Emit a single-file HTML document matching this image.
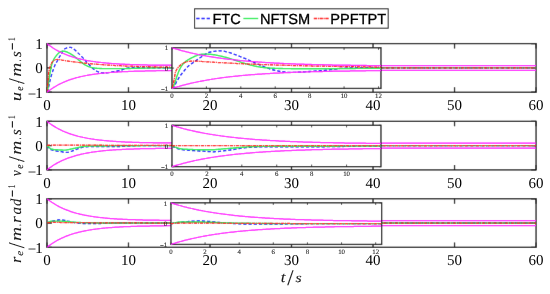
<!DOCTYPE html>
<html><head><meta charset="utf-8"><title>plot</title>
<style>html,body{margin:0;padding:0;background:#fff;overflow:hidden}svg{display:block;text-rendering:geometricPrecision}</style>
</head><body>
<svg width="550" height="294" viewBox="0 0 550 294">
<rect width="550" height="294" fill="#fff"/>
<defs><filter id="bl" filterUnits="userSpaceOnUse" x="0" y="0" width="550" height="294"><feConvolveMatrix order="3" kernelMatrix="0.00276 0.04704 0.00276 0.04704 0.80077 0.04704 0.00276 0.04704 0.00276" divisor="1" edgeMode="duplicate" preserveAlpha="true"/></filter></defs>
<g filter="url(#bl)">
<rect width="550" height="294" fill="#fff"/>
<g>
<rect x="46.97" y="43.60" width="489.09" height="48.64" fill="none" stroke="#1a1a1a" stroke-width="1.30"/>
<path d="M46.97,92.24 v-4.90 M46.97,43.60 v4.90 M128.48,92.24 v-4.90 M128.48,43.60 v4.90 M210.00,92.24 v-4.90 M210.00,43.60 v4.90 M291.51,92.24 v-4.90 M291.51,43.60 v4.90 M373.03,92.24 v-4.90 M373.03,43.60 v4.90 M454.54,92.24 v-4.90 M454.54,43.60 v4.90 M536.06,92.24 v-4.90 M536.06,43.60 v4.90 M46.97,92.24 h4.90 M536.06,92.24 h-4.90 M46.97,67.92 h4.90 M536.06,67.92 h-4.90 M46.97,43.60 h4.90 M536.06,43.60 h-4.90" stroke="#1a1a1a" stroke-width="1.30" fill="none"/>
<clipPath id="c0"><rect x="46.97" y="42.60" width="489.09" height="50.64"/></clipPath>
<g clip-path="url(#c0)">
<path d="M47.0,92.2 L47.8,90.4 L48.6,87.2 L49.4,83.3 L50.2,79.9 L51.0,76.8 L51.8,74.1 L52.6,71.6 L53.4,69.2 L54.2,67.0 L55.0,64.9 L55.8,63.4 L56.6,62.1 L57.4,60.7 L58.2,59.2 L59.0,57.8 L59.8,56.4 L60.6,55.1 L61.4,53.8 L62.2,52.4 L63.0,51.0 L63.8,49.8 L64.6,49.0 L65.4,48.5 L66.2,48.2 L67.0,47.8 L67.8,47.6 L68.6,47.4 L69.4,47.3 L70.2,47.3 L71.0,47.4 L71.8,47.8 L72.6,48.3 L73.4,48.9 L74.2,49.4 L75.0,50.0 L75.8,50.7 L76.6,51.4 L77.4,52.2 L78.2,53.1 L79.0,53.9 L79.8,54.6 L80.6,55.4 L81.4,56.3 L82.2,57.1 L83.0,57.9 L83.8,58.8 L84.6,59.7 L85.4,60.6 L86.2,61.6 L87.0,62.5 L87.8,63.4 L88.6,64.2 L89.4,65.0 L90.2,65.8 L91.0,66.6 L91.8,67.4 L92.6,68.2 L93.4,68.9 L94.2,69.6 L95.0,70.1 L95.8,70.6 L96.6,71.1 L97.4,71.5 L98.2,71.8 L99.0,72.1 L99.8,72.4 L100.6,72.6 L101.4,72.8 L102.2,73.0 L103.0,73.0 L103.8,73.0 L104.6,73.0 L105.4,73.0 L106.2,72.9 L107.0,72.9 L107.8,72.7 L108.6,72.6 L109.4,72.4 L110.2,72.3 L111.0,72.1 L111.8,72.0 L112.6,71.9 L113.4,71.7 L114.2,71.6 L115.0,71.5 L115.8,71.3 L116.6,71.2 L117.4,71.0 L118.2,70.8 L119.0,70.6 L119.8,70.4 L120.6,70.2 L121.4,70.0 L122.2,69.8 L123.0,69.5 L123.8,69.2 L124.6,69.0 L125.4,68.7 L126.2,68.4 L127.0,68.2 L127.8,68.1 L128.6,67.9 L129.4,67.9 L130.2,67.9 L131.0,67.8 L131.8,67.8 L132.6,67.7 L133.4,67.7 L134.2,67.7 L135.0,67.7 L135.8,67.7 L136.6,67.7 L137.4,67.7 L138.2,67.7 L139.0,67.7 L139.8,67.7 L140.6,67.7 L141.4,67.7 L142.2,67.7 L143.0,67.8 L143.8,67.8 L144.6,67.8 L145.4,67.8 L146.2,67.8 L147.0,67.8 L147.8,67.9 L148.6,67.9 L149.4,67.9 L150.2,67.9 L151.0,67.9 L151.8,67.9 L152.6,67.9 L153.4,67.9 L154.2,67.9 L155.0,67.9 L155.8,67.9 L156.6,67.9 L157.4,67.9 L158.2,67.9 L159.0,67.9 L159.8,67.9 L160.6,67.9 L161.1,67.9 L169.2,67.9 L177.4,67.9 L185.5,67.9 L193.7,67.9 L201.8,67.9 L210.0,67.9 L218.2,67.9 L226.3,67.9 L234.5,67.9 L242.6,67.9 L250.8,67.9 L258.9,67.9 L267.1,67.9 L275.2,67.9 L283.4,67.9 L291.5,67.9 L299.7,67.9 L307.8,67.9 L316.0,67.9 L324.1,67.9 L332.3,67.9 L340.4,67.9 L348.6,67.9 L356.7,67.9 L364.9,67.9 L373.0,67.9 L381.2,67.9 L389.3,67.9 L397.5,67.9 L405.6,67.9 L413.8,67.9 L421.9,67.9 L430.1,67.9 L438.2,67.9 L446.4,67.9 L454.5,67.9 L462.7,67.9 L470.8,67.9 L479.0,67.9 L487.2,67.9 L495.3,67.9 L503.5,67.9 L511.6,67.9 L519.8,67.9 L527.9,67.9 L536.1,67.9" stroke="#0000ff" stroke-width="1.30" fill="none" stroke-dasharray="3.2 2"/>
<path d="M47.0,92.2 L47.8,89.0 L48.6,83.6 L49.4,77.2 L50.2,71.9 L51.0,67.6 L51.8,64.4 L52.6,62.0 L53.4,60.2 L54.2,58.7 L55.0,57.4 L55.8,56.3 L56.6,55.3 L57.4,54.4 L58.2,53.5 L59.0,52.7 L59.8,51.9 L60.6,51.6 L61.4,51.4 L62.2,51.2 L63.0,51.1 L63.8,51.2 L64.6,51.3 L65.4,51.5 L66.2,51.7 L67.0,52.0 L67.8,52.4 L68.6,52.8 L69.4,53.2 L70.2,53.6 L71.0,54.1 L71.8,54.6 L72.6,55.1 L73.4,55.6 L74.2,56.2 L75.0,56.9 L75.8,57.5 L76.6,58.2 L77.4,58.9 L78.2,59.6 L79.0,60.2 L79.8,60.9 L80.6,61.5 L81.4,62.2 L82.2,62.9 L83.0,63.5 L83.8,64.1 L84.6,64.6 L85.4,65.0 L86.2,65.5 L87.0,65.9 L87.8,66.3 L88.6,66.6 L89.4,66.9 L90.2,67.2 L91.0,67.4 L91.8,67.6 L92.6,67.7 L93.4,67.9 L94.2,68.0 L95.0,68.1 L95.8,68.2 L96.6,68.3 L97.4,68.4 L98.2,68.4 L99.0,68.4 L99.8,68.5 L100.6,68.5 L101.4,68.5 L102.2,68.6 L103.0,68.6 L103.8,68.6 L104.6,68.6 L105.4,68.6 L106.2,68.6 L107.0,68.6 L107.8,68.6 L108.6,68.6 L109.4,68.6 L110.2,68.6 L111.0,68.6 L111.8,68.6 L112.6,68.6 L113.4,68.6 L114.2,68.6 L115.0,68.6 L115.8,68.6 L116.6,68.6 L117.4,68.6 L118.2,68.6 L119.0,68.6 L119.8,68.6 L120.6,68.6 L121.4,68.6 L122.2,68.6 L123.0,68.6 L123.8,68.6 L124.6,68.6 L125.4,68.6 L126.2,68.6 L127.0,68.5 L127.8,68.5 L128.6,68.5 L129.4,68.5 L130.2,68.5 L131.0,68.4 L131.8,68.4 L132.6,68.4 L133.4,68.4 L134.2,68.3 L135.0,68.3 L135.8,68.3 L136.6,68.3 L137.4,68.3 L138.2,68.3 L139.0,68.2 L139.8,68.2 L140.6,68.2 L141.4,68.2 L142.2,68.2 L143.0,68.2 L143.8,68.1 L144.6,68.1 L145.4,68.1 L146.2,68.1 L147.0,68.1 L147.8,68.1 L148.6,68.1 L149.4,68.0 L150.2,68.0 L151.0,68.0 L151.8,68.0 L152.6,68.0 L153.4,68.0 L154.2,68.0 L155.0,68.0 L155.8,67.9 L156.6,67.9 L157.4,67.9 L158.2,67.9 L159.0,67.9 L159.8,67.9 L160.6,67.9 L161.1,67.9 L169.2,67.9 L177.4,67.9 L185.5,67.9 L193.7,67.9 L201.8,67.9 L210.0,67.9 L218.2,67.9 L226.3,67.9 L234.5,67.9 L242.6,67.9 L250.8,67.9 L258.9,67.9 L267.1,67.9 L275.2,67.9 L283.4,67.9 L291.5,67.9 L299.7,67.9 L307.8,67.9 L316.0,67.9 L324.1,67.9 L332.3,67.9 L340.4,67.9 L348.6,67.9 L356.7,67.9 L364.9,67.9 L373.0,67.9 L381.2,67.9 L389.3,67.9 L397.5,67.9 L405.6,67.9 L413.8,67.9 L421.9,67.9 L430.1,67.9 L438.2,67.9 L446.4,67.9 L454.5,67.9 L462.7,67.9 L470.8,67.9 L479.0,67.9 L487.2,67.9 L495.3,67.9 L503.5,67.9 L511.6,67.9 L519.8,67.9 L527.9,67.9 L536.1,67.9" stroke="#22ee55" stroke-width="1.40" fill="none"/>
<path d="M47.0,92.2 L47.8,84.6 L48.6,73.0 L49.4,68.9 L50.2,66.4 L51.0,64.3 L51.8,62.7 L52.6,61.7 L53.4,60.9 L54.2,60.3 L55.0,59.9 L55.8,59.7 L56.6,59.5 L57.4,59.4 L58.2,59.5 L59.0,59.6 L59.8,59.7 L60.6,59.9 L61.4,60.0 L62.2,60.2 L63.0,60.3 L63.8,60.4 L64.6,60.6 L65.4,60.7 L66.2,60.8 L67.0,60.9 L67.8,61.1 L68.6,61.2 L69.4,61.3 L70.2,61.4 L71.0,61.5 L71.8,61.6 L72.6,61.7 L73.4,61.8 L74.2,61.9 L75.0,62.0 L75.8,62.1 L76.6,62.2 L77.4,62.3 L78.2,62.4 L79.0,62.5 L79.8,62.6 L80.6,62.7 L81.4,62.8 L82.2,62.9 L83.0,63.0 L83.8,63.1 L84.6,63.2 L85.4,63.2 L86.2,63.3 L87.0,63.4 L87.8,63.5 L88.6,63.5 L89.4,63.6 L90.2,63.7 L91.0,63.8 L91.8,63.8 L92.6,63.9 L93.4,64.0 L94.2,64.0 L95.0,64.1 L95.8,64.2 L96.6,64.2 L97.4,64.3 L98.2,64.4 L99.0,64.4 L99.8,64.5 L100.6,64.6 L101.4,64.6 L102.2,64.7 L103.0,64.7 L103.8,64.8 L104.6,64.8 L105.4,64.9 L106.2,64.9 L107.0,65.0 L107.8,65.0 L108.6,65.1 L109.4,65.1 L110.2,65.2 L111.0,65.2 L111.8,65.3 L112.6,65.3 L113.4,65.4 L114.2,65.4 L115.0,65.5 L115.8,65.5 L116.6,65.5 L117.4,65.6 L118.2,65.6 L119.0,65.7 L119.8,65.7 L120.6,65.7 L121.4,65.8 L122.2,65.8 L123.0,65.8 L123.8,65.9 L124.6,65.9 L125.4,66.0 L126.2,66.0 L127.0,66.0 L127.8,66.1 L128.6,66.1 L129.4,66.1 L130.2,66.1 L131.0,66.2 L131.8,66.2 L132.6,66.2 L133.4,66.3 L134.2,66.3 L135.0,66.3 L135.8,66.4 L136.6,66.4 L137.4,66.4 L138.2,66.4 L139.0,66.5 L139.8,66.5 L140.6,66.5 L141.4,66.5 L142.2,66.6 L143.0,66.6 L143.8,66.6 L144.6,66.6 L145.4,66.6 L146.2,66.7 L147.0,66.7 L147.8,66.7 L148.6,66.7 L149.4,66.8 L150.2,66.8 L151.0,66.8 L151.8,66.8 L152.6,66.8 L153.4,66.8 L154.2,66.9 L155.0,66.9 L155.8,66.9 L156.6,66.9 L157.4,66.9 L158.2,67.0 L159.0,67.0 L159.8,67.0 L160.6,67.0 L161.1,67.0 L169.2,67.2 L177.4,67.3 L185.5,67.4 L193.7,67.5 L201.8,67.5 L210.0,67.6 L218.2,67.7 L226.3,67.7 L234.5,67.7 L242.6,67.8 L250.8,67.8 L258.9,67.8 L267.1,67.8 L275.2,67.8 L283.4,67.9 L291.5,67.9 L299.7,67.9 L307.8,67.9 L316.0,67.9 L324.1,67.9 L332.3,67.9 L340.4,67.9 L348.6,67.9 L356.7,67.9 L364.9,67.9 L373.0,67.9 L381.2,67.9 L389.3,67.9 L397.5,67.9 L405.6,67.9 L413.8,67.9 L421.9,67.9 L430.1,67.9 L438.2,67.9 L446.4,67.9 L454.5,67.9 L462.7,67.9 L470.8,67.9 L479.0,67.9 L487.2,67.9 L495.3,67.9 L503.5,67.9 L511.6,67.9 L519.8,67.9 L527.9,67.9 L536.1,67.9" stroke="#ff0000" stroke-width="1.25" fill="none" stroke-dasharray="3.2 0.8 1 0.8"/>
<path d="M47.0,43.6 L47.8,44.2 L48.6,44.9 L49.4,45.5 L50.2,46.0 L51.0,46.6 L51.8,47.1 L52.6,47.7 L53.4,48.2 L54.2,48.7 L55.0,49.2 L55.8,49.7 L56.6,50.1 L57.4,50.6 L58.2,51.0 L59.0,51.4 L59.8,51.8 L60.6,52.2 L61.4,52.6 L62.2,53.0 L63.0,53.3 L63.8,53.7 L64.6,54.0 L65.4,54.4 L66.2,54.7 L67.0,55.0 L67.8,55.3 L68.6,55.6 L69.4,55.9 L70.2,56.2 L71.0,56.4 L71.8,56.7 L72.6,57.0 L73.4,57.2 L74.2,57.4 L75.0,57.7 L75.8,57.9 L76.6,58.1 L77.4,58.3 L78.2,58.5 L79.0,58.7 L79.8,58.9 L80.6,59.1 L81.4,59.3 L82.2,59.5 L83.0,59.7 L83.8,59.8 L84.6,60.0 L85.4,60.2 L86.2,60.3 L87.0,60.5 L87.8,60.6 L88.6,60.8 L89.4,60.9 L90.2,61.0 L91.0,61.2 L91.8,61.3 L92.6,61.4 L93.4,61.5 L94.2,61.6 L95.0,61.7 L95.8,61.9 L96.6,62.0 L97.4,62.1 L98.2,62.2 L99.0,62.3 L99.8,62.4 L100.6,62.4 L101.4,62.5 L102.2,62.6 L103.0,62.7 L103.8,62.8 L104.6,62.9 L105.4,62.9 L106.2,63.0 L107.0,63.1 L107.8,63.2 L108.6,63.2 L109.4,63.3 L110.2,63.3 L111.0,63.4 L111.8,63.5 L112.6,63.5 L113.4,63.6 L114.2,63.6 L115.0,63.7 L115.8,63.7 L116.6,63.8 L117.4,63.8 L118.2,63.9 L119.0,63.9 L119.8,64.0 L120.6,64.0 L121.4,64.1 L122.2,64.1 L123.0,64.2 L123.8,64.2 L124.6,64.2 L125.4,64.3 L126.2,64.3 L127.0,64.3 L127.8,64.4 L128.6,64.4 L129.4,64.4 L130.2,64.5 L131.0,64.5 L131.8,64.5 L132.6,64.6 L133.4,64.6 L134.2,64.6 L135.0,64.6 L135.8,64.7 L136.6,64.7 L137.4,64.7 L138.2,64.7 L139.0,64.7 L139.8,64.8 L140.6,64.8 L141.4,64.8 L142.2,64.8 L143.0,64.8 L143.8,64.9 L144.6,64.9 L145.4,64.9 L146.2,64.9 L147.0,64.9 L147.8,65.0 L148.6,65.0 L149.4,65.0 L150.2,65.0 L151.0,65.0 L151.8,65.0 L152.6,65.0 L153.4,65.1 L154.2,65.1 L155.0,65.1 L155.8,65.1 L156.6,65.1 L157.4,65.1 L158.2,65.1 L159.0,65.1 L159.8,65.1 L160.6,65.2 L161.1,65.2 L169.2,65.2 L177.4,65.3 L185.5,65.4 L193.7,65.4 L201.8,65.4 L210.0,65.4 L218.2,65.4 L226.3,65.5 L234.5,65.5 L242.6,65.5 L250.8,65.5 L258.9,65.5 L267.1,65.5 L275.2,65.5 L283.4,65.5 L291.5,65.5 L299.7,65.5 L307.8,65.5 L316.0,65.5 L324.1,65.5 L332.3,65.5 L340.4,65.5 L348.6,65.5 L356.7,65.5 L364.9,65.5 L373.0,65.5 L381.2,65.5 L389.3,65.5 L397.5,65.5 L405.6,65.5 L413.8,65.5 L421.9,65.5 L430.1,65.5 L438.2,65.5 L446.4,65.5 L454.5,65.5 L462.7,65.5 L470.8,65.5 L479.0,65.5 L487.2,65.5 L495.3,65.5 L503.5,65.5 L511.6,65.5 L519.8,65.5 L527.9,65.5 L536.1,65.5" stroke="#ff00ff" stroke-width="1.25" fill="none"/>
<path d="M47.0,92.2 L47.8,91.6 L48.6,91.0 L49.4,90.4 L50.2,89.8 L51.0,89.2 L51.8,88.7 L52.6,88.2 L53.4,87.6 L54.2,87.1 L55.0,86.7 L55.8,86.2 L56.6,85.7 L57.4,85.3 L58.2,84.8 L59.0,84.4 L59.8,84.0 L60.6,83.6 L61.4,83.2 L62.2,82.9 L63.0,82.5 L63.8,82.1 L64.6,81.8 L65.4,81.5 L66.2,81.1 L67.0,80.8 L67.8,80.5 L68.6,80.2 L69.4,79.9 L70.2,79.7 L71.0,79.4 L71.8,79.1 L72.6,78.9 L73.4,78.6 L74.2,78.4 L75.0,78.2 L75.8,77.9 L76.6,77.7 L77.4,77.5 L78.2,77.3 L79.0,77.1 L79.8,76.9 L80.6,76.7 L81.4,76.5 L82.2,76.3 L83.0,76.2 L83.8,76.0 L84.6,75.8 L85.4,75.7 L86.2,75.5 L87.0,75.4 L87.8,75.2 L88.6,75.1 L89.4,74.9 L90.2,74.8 L91.0,74.7 L91.8,74.6 L92.6,74.4 L93.4,74.3 L94.2,74.2 L95.0,74.1 L95.8,74.0 L96.6,73.9 L97.4,73.8 L98.2,73.7 L99.0,73.6 L99.8,73.5 L100.6,73.4 L101.4,73.3 L102.2,73.2 L103.0,73.1 L103.8,73.1 L104.6,73.0 L105.4,72.9 L106.2,72.8 L107.0,72.8 L107.8,72.7 L108.6,72.6 L109.4,72.6 L110.2,72.5 L111.0,72.4 L111.8,72.4 L112.6,72.3 L113.4,72.3 L114.2,72.2 L115.0,72.1 L115.8,72.1 L116.6,72.0 L117.4,72.0 L118.2,71.9 L119.0,71.9 L119.8,71.9 L120.6,71.8 L121.4,71.8 L122.2,71.7 L123.0,71.7 L123.8,71.6 L124.6,71.6 L125.4,71.6 L126.2,71.5 L127.0,71.5 L127.8,71.5 L128.6,71.4 L129.4,71.4 L130.2,71.4 L131.0,71.3 L131.8,71.3 L132.6,71.3 L133.4,71.3 L134.2,71.2 L135.0,71.2 L135.8,71.2 L136.6,71.2 L137.4,71.1 L138.2,71.1 L139.0,71.1 L139.8,71.1 L140.6,71.1 L141.4,71.0 L142.2,71.0 L143.0,71.0 L143.8,71.0 L144.6,71.0 L145.4,70.9 L146.2,70.9 L147.0,70.9 L147.8,70.9 L148.6,70.9 L149.4,70.9 L150.2,70.8 L151.0,70.8 L151.8,70.8 L152.6,70.8 L153.4,70.8 L154.2,70.8 L155.0,70.8 L155.8,70.8 L156.6,70.7 L157.4,70.7 L158.2,70.7 L159.0,70.7 L159.8,70.7 L160.6,70.7 L161.1,70.7 L169.2,70.6 L177.4,70.5 L185.5,70.5 L193.7,70.5 L201.8,70.4 L210.0,70.4 L218.2,70.4 L226.3,70.4 L234.5,70.4 L242.6,70.4 L250.8,70.4 L258.9,70.4 L267.1,70.4 L275.2,70.4 L283.4,70.4 L291.5,70.4 L299.7,70.4 L307.8,70.4 L316.0,70.4 L324.1,70.4 L332.3,70.4 L340.4,70.4 L348.6,70.4 L356.7,70.4 L364.9,70.4 L373.0,70.4 L381.2,70.4 L389.3,70.4 L397.5,70.4 L405.6,70.4 L413.8,70.4 L421.9,70.4 L430.1,70.4 L438.2,70.4 L446.4,70.4 L454.5,70.4 L462.7,70.4 L470.8,70.4 L479.0,70.4 L487.2,70.4 L495.3,70.4 L503.5,70.4 L511.6,70.4 L519.8,70.4 L527.9,70.4 L536.1,70.4" stroke="#ff00ff" stroke-width="1.25" fill="none"/>
</g>
<rect x="171.97" y="47.76" width="209.00" height="40.67" fill="#fff" stroke="none"/>
<rect x="171.97" y="47.76" width="209.00" height="40.67" fill="none" stroke="#1a1a1a" stroke-width="1.30"/>
<path d="M171.97,88.43 v-2.10 M171.97,47.76 v2.10 M206.39,88.43 v-2.10 M206.39,47.76 v2.10 M240.81,88.43 v-2.10 M240.81,47.76 v2.10 M275.23,88.43 v-2.10 M275.23,47.76 v2.10 M309.65,88.43 v-2.10 M309.65,47.76 v2.10 M344.07,88.43 v-2.10 M344.07,47.76 v2.10 M378.49,88.43 v-2.10 M378.49,47.76 v2.10 M171.97,88.43 h2.10 M380.97,88.43 h-2.10 M171.97,68.09 h2.10 M380.97,68.09 h-2.10 M171.97,47.76 h2.10 M380.97,47.76 h-2.10" stroke="#1a1a1a" stroke-width="0.8" fill="none"/>
<clipPath id="ic0"><rect x="171.97" y="46.76" width="209.00" height="42.67"/></clipPath>
<g clip-path="url(#ic0)">
<path d="M172.0,88.4 L172.8,87.8 L173.6,87.0 L174.4,85.9 L175.2,84.6 L176.0,83.0 L176.8,81.4 L177.6,80.1 L178.4,78.7 L179.2,77.4 L180.0,76.2 L180.8,75.0 L181.6,74.0 L182.4,72.9 L183.2,71.9 L184.0,71.0 L184.8,70.0 L185.6,69.1 L186.4,68.2 L187.2,67.3 L188.0,66.4 L188.8,65.7 L189.6,65.0 L190.4,64.4 L191.2,63.9 L192.0,63.4 L192.8,62.9 L193.6,62.3 L194.4,61.8 L195.2,61.2 L196.0,60.6 L196.8,60.0 L197.6,59.4 L198.4,58.9 L199.2,58.3 L200.0,57.8 L200.8,57.3 L201.6,56.8 L202.4,56.3 L203.2,55.7 L204.0,55.2 L204.8,54.6 L205.6,54.1 L206.4,53.6 L207.2,53.1 L208.0,52.7 L208.8,52.4 L209.6,52.1 L210.4,52.0 L211.2,51.8 L212.0,51.7 L212.8,51.5 L213.6,51.4 L214.4,51.3 L215.2,51.2 L216.0,51.1 L216.8,51.0 L217.6,50.9 L218.4,50.9 L219.2,50.8 L220.0,50.8 L220.8,50.8 L221.6,50.9 L222.4,50.9 L223.2,51.1 L224.0,51.2 L224.8,51.4 L225.6,51.6 L226.4,51.8 L227.2,52.0 L228.0,52.2 L228.8,52.5 L229.6,52.7 L230.4,52.9 L231.2,53.1 L232.0,53.4 L232.8,53.7 L233.6,54.0 L234.4,54.3 L235.2,54.6 L236.0,54.9 L236.8,55.2 L237.6,55.6 L238.4,55.9 L239.2,56.2 L240.0,56.5 L240.8,56.8 L241.6,57.1 L242.4,57.5 L243.2,57.8 L244.0,58.1 L244.8,58.4 L245.6,58.7 L246.4,59.1 L247.2,59.4 L248.0,59.7 L248.8,60.1 L249.6,60.4 L250.4,60.8 L251.2,61.1 L252.0,61.5 L252.8,61.9 L253.6,62.2 L254.4,62.6 L255.2,63.0 L256.0,63.3 L256.8,63.7 L257.6,64.1 L258.4,64.4 L259.2,64.7 L260.0,65.1 L260.8,65.4 L261.6,65.7 L262.4,66.0 L263.2,66.3 L264.0,66.7 L264.8,67.0 L265.6,67.3 L266.4,67.6 L267.2,67.9 L268.0,68.2 L268.8,68.5 L269.6,68.8 L270.4,69.1 L271.2,69.3 L272.0,69.6 L272.8,69.8 L273.6,70.0 L274.4,70.2 L275.2,70.4 L276.0,70.6 L276.8,70.8 L277.6,70.9 L278.4,71.1 L279.2,71.2 L280.0,71.3 L280.8,71.4 L281.6,71.6 L282.4,71.7 L283.2,71.8 L284.0,71.9 L284.8,72.0 L285.6,72.1 L286.4,72.2 L287.2,72.2 L288.0,72.3 L288.8,72.3 L289.6,72.4 L290.4,72.4 L291.2,72.4 L292.0,72.4 L292.8,72.4 L293.6,72.3 L294.4,72.3 L295.2,72.3 L296.0,72.3 L296.8,72.3 L297.6,72.3 L298.4,72.2 L299.2,72.2 L300.0,72.2 L300.8,72.1 L301.6,72.0 L302.4,72.0 L303.2,71.9 L304.0,71.8 L304.8,71.8 L305.6,71.7 L306.4,71.7 L307.2,71.6 L308.0,71.6 L308.8,71.5 L309.6,71.5 L310.4,71.4 L311.2,71.4 L312.0,71.3 L312.8,71.3 L313.6,71.2 L314.4,71.2 L315.2,71.1 L316.0,71.0 L316.8,71.0 L317.6,70.9 L318.4,70.9 L319.2,70.8 L320.0,70.7 L320.8,70.7 L321.6,70.6 L322.4,70.5 L323.2,70.4 L324.0,70.4 L324.8,70.3 L325.6,70.2 L326.4,70.1 L327.2,70.0 L328.0,69.9 L328.8,69.8 L329.6,69.8 L330.4,69.7 L331.2,69.6 L332.0,69.5 L332.8,69.4 L333.6,69.3 L334.4,69.2 L335.2,69.1 L336.0,69.0 L336.8,68.8 L337.6,68.7 L338.4,68.6 L339.2,68.5 L340.0,68.4 L340.8,68.4 L341.6,68.3 L342.4,68.2 L343.2,68.2 L344.0,68.1 L344.8,68.1 L345.6,68.1 L346.4,68.1 L347.2,68.0 L348.0,68.0 L348.8,68.0 L349.6,68.0 L350.4,68.0 L351.2,68.0 L352.0,68.0 L352.8,68.0 L353.6,67.9 L354.4,67.9 L355.2,67.9 L356.0,67.9 L356.8,67.9 L357.6,67.9 L358.4,67.9 L359.2,67.9 L360.0,67.9 L360.8,67.9 L361.6,67.9 L362.4,67.9 L363.2,67.9 L364.0,67.9 L364.8,67.9 L365.6,67.9 L366.4,67.9 L367.2,67.9 L368.0,67.9 L368.8,67.9 L369.6,67.9 L370.4,67.9 L371.2,67.9 L372.0,67.9 L372.8,67.9 L373.6,68.0 L374.4,68.0 L375.2,68.0 L376.0,68.0 L376.8,68.0 L377.6,68.0 L378.4,68.0 L379.2,68.0 L380.0,68.0 L380.8,68.0 L381.0,68.0" stroke="#0000ff" stroke-width="1.30" fill="none" stroke-dasharray="3.2 2"/>
<path d="M172.0,88.4 L172.8,87.3 L173.6,85.9 L174.4,84.2 L175.2,81.8 L176.0,79.1 L176.8,76.6 L177.6,74.4 L178.4,72.3 L179.2,70.4 L180.0,68.7 L180.8,67.2 L181.6,65.9 L182.4,64.8 L183.2,63.8 L184.0,63.0 L184.8,62.2 L185.6,61.6 L186.4,60.9 L187.2,60.4 L188.0,59.8 L188.8,59.4 L189.6,58.9 L190.4,58.5 L191.2,58.1 L192.0,57.7 L192.8,57.3 L193.6,56.9 L194.4,56.5 L195.2,56.2 L196.0,55.9 L196.8,55.6 L197.6,55.2 L198.4,54.9 L199.2,54.7 L200.0,54.5 L200.8,54.4 L201.6,54.3 L202.4,54.2 L203.2,54.2 L204.0,54.1 L204.8,54.1 L205.6,54.1 L206.4,54.1 L207.2,54.1 L208.0,54.1 L208.8,54.2 L209.6,54.2 L210.4,54.3 L211.2,54.4 L212.0,54.5 L212.8,54.6 L213.6,54.7 L214.4,54.8 L215.2,54.9 L216.0,55.1 L216.8,55.2 L217.6,55.4 L218.4,55.6 L219.2,55.8 L220.0,55.9 L220.8,56.1 L221.6,56.3 L222.4,56.5 L223.2,56.7 L224.0,56.9 L224.8,57.1 L225.6,57.3 L226.4,57.5 L227.2,57.7 L228.0,57.9 L228.8,58.1 L229.6,58.4 L230.4,58.6 L231.2,58.9 L232.0,59.2 L232.8,59.4 L233.6,59.7 L234.4,60.0 L235.2,60.2 L236.0,60.5 L236.8,60.8 L237.6,61.0 L238.4,61.3 L239.2,61.5 L240.0,61.8 L240.8,62.1 L241.6,62.3 L242.4,62.6 L243.2,62.8 L244.0,63.1 L244.8,63.4 L245.6,63.6 L246.4,63.9 L247.2,64.2 L248.0,64.4 L248.8,64.6 L249.6,64.9 L250.4,65.1 L251.2,65.3 L252.0,65.4 L252.8,65.6 L253.6,65.8 L254.4,66.0 L255.2,66.1 L256.0,66.3 L256.8,66.5 L257.6,66.6 L258.4,66.8 L259.2,66.9 L260.0,67.0 L260.8,67.2 L261.6,67.3 L262.4,67.4 L263.2,67.5 L264.0,67.6 L264.8,67.7 L265.6,67.7 L266.4,67.8 L267.2,67.9 L268.0,67.9 L268.8,68.0 L269.6,68.0 L270.4,68.1 L271.2,68.1 L272.0,68.2 L272.8,68.2 L273.6,68.3 L274.4,68.3 L275.2,68.4 L276.0,68.4 L276.8,68.4 L277.6,68.4 L278.4,68.5 L279.2,68.5 L280.0,68.5 L280.8,68.5 L281.6,68.5 L282.4,68.5 L283.2,68.6 L284.0,68.6 L284.8,68.6 L285.6,68.6 L286.4,68.6 L287.2,68.6 L288.0,68.6 L288.8,68.6 L289.6,68.6 L290.4,68.6 L291.2,68.7 L292.0,68.7 L292.8,68.7 L293.6,68.7 L294.4,68.7 L295.2,68.7 L296.0,68.7 L296.8,68.7 L297.6,68.7 L298.4,68.7 L299.2,68.7 L300.0,68.7 L300.8,68.7 L301.6,68.7 L302.4,68.7 L303.2,68.7 L304.0,68.7 L304.8,68.7 L305.6,68.7 L306.4,68.7 L307.2,68.7 L308.0,68.7 L308.8,68.7 L309.6,68.7 L310.4,68.7 L311.2,68.7 L312.0,68.7 L312.8,68.7 L313.6,68.7 L314.4,68.7 L315.2,68.7 L316.0,68.7 L316.8,68.7 L317.6,68.7 L318.4,68.7 L319.2,68.7 L320.0,68.7 L320.8,68.7 L321.6,68.7 L322.4,68.7 L323.2,68.7 L324.0,68.7 L324.8,68.7 L325.6,68.7 L326.4,68.7 L327.2,68.7 L328.0,68.7 L328.8,68.7 L329.6,68.7 L330.4,68.7 L331.2,68.7 L332.0,68.7 L332.8,68.7 L333.6,68.7 L334.4,68.7 L335.2,68.7 L336.0,68.7 L336.8,68.7 L337.6,68.7 L338.4,68.6 L339.2,68.6 L340.0,68.6 L340.8,68.6 L341.6,68.6 L342.4,68.6 L343.2,68.6 L344.0,68.6 L344.8,68.6 L345.6,68.6 L346.4,68.6 L347.2,68.5 L348.0,68.5 L348.8,68.5 L349.6,68.5 L350.4,68.5 L351.2,68.5 L352.0,68.5 L352.8,68.5 L353.6,68.5 L354.4,68.5 L355.2,68.5 L356.0,68.4 L356.8,68.4 L357.6,68.4 L358.4,68.4 L359.2,68.4 L360.0,68.4 L360.8,68.4 L361.6,68.4 L362.4,68.4 L363.2,68.4 L364.0,68.4 L364.8,68.4 L365.6,68.4 L366.4,68.4 L367.2,68.4 L368.0,68.3 L368.8,68.3 L369.6,68.3 L370.4,68.3 L371.2,68.3 L372.0,68.3 L372.8,68.3 L373.6,68.3 L374.4,68.3 L375.2,68.3 L376.0,68.3 L376.8,68.3 L377.6,68.3 L378.4,68.3 L379.2,68.3 L380.0,68.3 L380.8,68.2 L381.0,68.2" stroke="#22ee55" stroke-width="1.40" fill="none"/>
<path d="M172.0,88.4 L172.8,85.8 L173.6,82.5 L174.4,78.3 L175.2,73.1 L176.0,70.8 L176.8,69.3 L177.6,68.2 L178.4,67.2 L179.2,66.3 L180.0,65.5 L180.8,64.7 L181.6,64.1 L182.4,63.5 L183.2,63.1 L184.0,62.8 L184.8,62.5 L185.6,62.2 L186.4,61.9 L187.2,61.7 L188.0,61.5 L188.8,61.4 L189.6,61.3 L190.4,61.2 L191.2,61.2 L192.0,61.1 L192.8,61.0 L193.6,61.0 L194.4,61.0 L195.2,61.0 L196.0,61.0 L196.8,61.1 L197.6,61.2 L198.4,61.2 L199.2,61.3 L200.0,61.3 L200.8,61.4 L201.6,61.4 L202.4,61.5 L203.2,61.5 L204.0,61.6 L204.8,61.7 L205.6,61.7 L206.4,61.8 L207.2,61.8 L208.0,61.9 L208.8,61.9 L209.6,62.0 L210.4,62.0 L211.2,62.1 L212.0,62.1 L212.8,62.2 L213.6,62.2 L214.4,62.3 L215.2,62.3 L216.0,62.4 L216.8,62.4 L217.6,62.5 L218.4,62.5 L219.2,62.5 L220.0,62.6 L220.8,62.6 L221.6,62.7 L222.4,62.7 L223.2,62.8 L224.0,62.8 L224.8,62.9 L225.6,62.9 L226.4,62.9 L227.2,63.0 L228.0,63.0 L228.8,63.1 L229.6,63.1 L230.4,63.1 L231.2,63.2 L232.0,63.2 L232.8,63.3 L233.6,63.3 L234.4,63.3 L235.2,63.4 L236.0,63.4 L236.8,63.5 L237.6,63.5 L238.4,63.5 L239.2,63.6 L240.0,63.6 L240.8,63.6 L241.6,63.7 L242.4,63.7 L243.2,63.8 L244.0,63.8 L244.8,63.8 L245.6,63.9 L246.4,63.9 L247.2,63.9 L248.0,64.0 L248.8,64.0 L249.6,64.0 L250.4,64.1 L251.2,64.1 L252.0,64.1 L252.8,64.2 L253.6,64.2 L254.4,64.2 L255.2,64.3 L256.0,64.3 L256.8,64.3 L257.6,64.4 L258.4,64.4 L259.2,64.4 L260.0,64.4 L260.8,64.5 L261.6,64.5 L262.4,64.5 L263.2,64.6 L264.0,64.6 L264.8,64.6 L265.6,64.6 L266.4,64.7 L267.2,64.7 L268.0,64.7 L268.8,64.8 L269.6,64.8 L270.4,64.8 L271.2,64.8 L272.0,64.9 L272.8,64.9 L273.6,64.9 L274.4,64.9 L275.2,65.0 L276.0,65.0 L276.8,65.0 L277.6,65.0 L278.4,65.1 L279.2,65.1 L280.0,65.1 L280.8,65.1 L281.6,65.2 L282.4,65.2 L283.2,65.2 L284.0,65.2 L284.8,65.3 L285.6,65.3 L286.4,65.3 L287.2,65.3 L288.0,65.4 L288.8,65.4 L289.6,65.4 L290.4,65.4 L291.2,65.4 L292.0,65.5 L292.8,65.5 L293.6,65.5 L294.4,65.5 L295.2,65.6 L296.0,65.6 L296.8,65.6 L297.6,65.6 L298.4,65.6 L299.2,65.7 L300.0,65.7 L300.8,65.7 L301.6,65.7 L302.4,65.7 L303.2,65.8 L304.0,65.8 L304.8,65.8 L305.6,65.8 L306.4,65.8 L307.2,65.8 L308.0,65.9 L308.8,65.9 L309.6,65.9 L310.4,65.9 L311.2,65.9 L312.0,66.0 L312.8,66.0 L313.6,66.0 L314.4,66.0 L315.2,66.0 L316.0,66.0 L316.8,66.1 L317.6,66.1 L318.4,66.1 L319.2,66.1 L320.0,66.1 L320.8,66.1 L321.6,66.2 L322.4,66.2 L323.2,66.2 L324.0,66.2 L324.8,66.2 L325.6,66.2 L326.4,66.3 L327.2,66.3 L328.0,66.3 L328.8,66.3 L329.6,66.3 L330.4,66.3 L331.2,66.3 L332.0,66.4 L332.8,66.4 L333.6,66.4 L334.4,66.4 L335.2,66.4 L336.0,66.4 L336.8,66.4 L337.6,66.5 L338.4,66.5 L339.2,66.5 L340.0,66.5 L340.8,66.5 L341.6,66.5 L342.4,66.5 L343.2,66.5 L344.0,66.6 L344.8,66.6 L345.6,66.6 L346.4,66.6 L347.2,66.6 L348.0,66.6 L348.8,66.6 L349.6,66.6 L350.4,66.7 L351.2,66.7 L352.0,66.7 L352.8,66.7 L353.6,66.7 L354.4,66.7 L355.2,66.7 L356.0,66.7 L356.8,66.7 L357.6,66.8 L358.4,66.8 L359.2,66.8 L360.0,66.8 L360.8,66.8 L361.6,66.8 L362.4,66.8 L363.2,66.8 L364.0,66.8 L364.8,66.9 L365.6,66.9 L366.4,66.9 L367.2,66.9 L368.0,66.9 L368.8,66.9 L369.6,66.9 L370.4,66.9 L371.2,66.9 L372.0,66.9 L372.8,67.0 L373.6,67.0 L374.4,67.0 L375.2,67.0 L376.0,67.0 L376.8,67.0 L377.6,67.0 L378.4,67.0 L379.2,67.0 L380.0,67.0 L380.8,67.0 L381.0,67.0" stroke="#ff0000" stroke-width="1.25" fill="none" stroke-dasharray="3.2 0.8 1 0.8"/>
<path d="M172.0,47.8 L172.8,48.0 L173.6,48.3 L174.4,48.5 L175.2,48.8 L176.0,49.0 L176.8,49.2 L177.6,49.5 L178.4,49.7 L179.2,49.9 L180.0,50.1 L180.8,50.4 L181.6,50.6 L182.4,50.8 L183.2,51.0 L184.0,51.2 L184.8,51.4 L185.6,51.6 L186.4,51.8 L187.2,52.0 L188.0,52.2 L188.8,52.4 L189.6,52.6 L190.4,52.8 L191.2,53.0 L192.0,53.1 L192.8,53.3 L193.6,53.5 L194.4,53.7 L195.2,53.8 L196.0,54.0 L196.8,54.2 L197.6,54.3 L198.4,54.5 L199.2,54.7 L200.0,54.8 L200.8,55.0 L201.6,55.1 L202.4,55.3 L203.2,55.4 L204.0,55.6 L204.8,55.7 L205.6,55.9 L206.4,56.0 L207.2,56.2 L208.0,56.3 L208.8,56.4 L209.6,56.6 L210.4,56.7 L211.2,56.8 L212.0,56.9 L212.8,57.1 L213.6,57.2 L214.4,57.3 L215.2,57.4 L216.0,57.6 L216.8,57.7 L217.6,57.8 L218.4,57.9 L219.2,58.0 L220.0,58.1 L220.8,58.2 L221.6,58.4 L222.4,58.5 L223.2,58.6 L224.0,58.7 L224.8,58.8 L225.6,58.9 L226.4,59.0 L227.2,59.1 L228.0,59.2 L228.8,59.3 L229.6,59.4 L230.4,59.4 L231.2,59.5 L232.0,59.6 L232.8,59.7 L233.6,59.8 L234.4,59.9 L235.2,60.0 L236.0,60.1 L236.8,60.1 L237.6,60.2 L238.4,60.3 L239.2,60.4 L240.0,60.5 L240.8,60.5 L241.6,60.6 L242.4,60.7 L243.2,60.8 L244.0,60.8 L244.8,60.9 L245.6,61.0 L246.4,61.1 L247.2,61.1 L248.0,61.2 L248.8,61.3 L249.6,61.3 L250.4,61.4 L251.2,61.5 L252.0,61.5 L252.8,61.6 L253.6,61.6 L254.4,61.7 L255.2,61.8 L256.0,61.8 L256.8,61.9 L257.6,61.9 L258.4,62.0 L259.2,62.1 L260.0,62.1 L260.8,62.2 L261.6,62.2 L262.4,62.3 L263.2,62.3 L264.0,62.4 L264.8,62.4 L265.6,62.5 L266.4,62.5 L267.2,62.6 L268.0,62.6 L268.8,62.7 L269.6,62.7 L270.4,62.8 L271.2,62.8 L272.0,62.9 L272.8,62.9 L273.6,62.9 L274.4,63.0 L275.2,63.0 L276.0,63.1 L276.8,63.1 L277.6,63.2 L278.4,63.2 L279.2,63.2 L280.0,63.3 L280.8,63.3 L281.6,63.4 L282.4,63.4 L283.2,63.4 L284.0,63.5 L284.8,63.5 L285.6,63.5 L286.4,63.6 L287.2,63.6 L288.0,63.6 L288.8,63.7 L289.6,63.7 L290.4,63.7 L291.2,63.8 L292.0,63.8 L292.8,63.8 L293.6,63.9 L294.4,63.9 L295.2,63.9 L296.0,64.0 L296.8,64.0 L297.6,64.0 L298.4,64.0 L299.2,64.1 L300.0,64.1 L300.8,64.1 L301.6,64.2 L302.4,64.2 L303.2,64.2 L304.0,64.2 L304.8,64.3 L305.6,64.3 L306.4,64.3 L307.2,64.3 L308.0,64.4 L308.8,64.4 L309.6,64.4 L310.4,64.4 L311.2,64.4 L312.0,64.5 L312.8,64.5 L313.6,64.5 L314.4,64.5 L315.2,64.6 L316.0,64.6 L316.8,64.6 L317.6,64.6 L318.4,64.6 L319.2,64.7 L320.0,64.7 L320.8,64.7 L321.6,64.7 L322.4,64.7 L323.2,64.7 L324.0,64.8 L324.8,64.8 L325.6,64.8 L326.4,64.8 L327.2,64.8 L328.0,64.9 L328.8,64.9 L329.6,64.9 L330.4,64.9 L331.2,64.9 L332.0,64.9 L332.8,65.0 L333.6,65.0 L334.4,65.0 L335.2,65.0 L336.0,65.0 L336.8,65.0 L337.6,65.0 L338.4,65.1 L339.2,65.1 L340.0,65.1 L340.8,65.1 L341.6,65.1 L342.4,65.1 L343.2,65.1 L344.0,65.1 L344.8,65.2 L345.6,65.2 L346.4,65.2 L347.2,65.2 L348.0,65.2 L348.8,65.2 L349.6,65.2 L350.4,65.2 L351.2,65.3 L352.0,65.3 L352.8,65.3 L353.6,65.3 L354.4,65.3 L355.2,65.3 L356.0,65.3 L356.8,65.3 L357.6,65.3 L358.4,65.4 L359.2,65.4 L360.0,65.4 L360.8,65.4 L361.6,65.4 L362.4,65.4 L363.2,65.4 L364.0,65.4 L364.8,65.4 L365.6,65.4 L366.4,65.4 L367.2,65.5 L368.0,65.5 L368.8,65.5 L369.6,65.5 L370.4,65.5 L371.2,65.5 L372.0,65.5 L372.8,65.5 L373.6,65.5 L374.4,65.5 L375.2,65.5 L376.0,65.5 L376.8,65.5 L377.6,65.6 L378.4,65.6 L379.2,65.6 L380.0,65.6 L380.8,65.6 L381.0,65.6" stroke="#ff00ff" stroke-width="1.25" fill="none"/>
<path d="M172.0,88.4 L172.8,88.2 L173.6,87.9 L174.4,87.7 L175.2,87.4 L176.0,87.2 L176.8,87.0 L177.6,86.7 L178.4,86.5 L179.2,86.3 L180.0,86.0 L180.8,85.8 L181.6,85.6 L182.4,85.4 L183.2,85.2 L184.0,85.0 L184.8,84.8 L185.6,84.6 L186.4,84.4 L187.2,84.2 L188.0,84.0 L188.8,83.8 L189.6,83.6 L190.4,83.4 L191.2,83.2 L192.0,83.0 L192.8,82.9 L193.6,82.7 L194.4,82.5 L195.2,82.3 L196.0,82.2 L196.8,82.0 L197.6,81.8 L198.4,81.7 L199.2,81.5 L200.0,81.4 L200.8,81.2 L201.6,81.1 L202.4,80.9 L203.2,80.8 L204.0,80.6 L204.8,80.5 L205.6,80.3 L206.4,80.2 L207.2,80.0 L208.0,79.9 L208.8,79.8 L209.6,79.6 L210.4,79.5 L211.2,79.4 L212.0,79.2 L212.8,79.1 L213.6,79.0 L214.4,78.9 L215.2,78.7 L216.0,78.6 L216.8,78.5 L217.6,78.4 L218.4,78.3 L219.2,78.2 L220.0,78.1 L220.8,77.9 L221.6,77.8 L222.4,77.7 L223.2,77.6 L224.0,77.5 L224.8,77.4 L225.6,77.3 L226.4,77.2 L227.2,77.1 L228.0,77.0 L228.8,76.9 L229.6,76.8 L230.4,76.7 L231.2,76.6 L232.0,76.6 L232.8,76.5 L233.6,76.4 L234.4,76.3 L235.2,76.2 L236.0,76.1 L236.8,76.0 L237.6,76.0 L238.4,75.9 L239.2,75.8 L240.0,75.7 L240.8,75.6 L241.6,75.6 L242.4,75.5 L243.2,75.4 L244.0,75.3 L244.8,75.3 L245.6,75.2 L246.4,75.1 L247.2,75.1 L248.0,75.0 L248.8,74.9 L249.6,74.9 L250.4,74.8 L251.2,74.7 L252.0,74.7 L252.8,74.6 L253.6,74.5 L254.4,74.5 L255.2,74.4 L256.0,74.4 L256.8,74.3 L257.6,74.2 L258.4,74.2 L259.2,74.1 L260.0,74.1 L260.8,74.0 L261.6,74.0 L262.4,73.9 L263.2,73.9 L264.0,73.8 L264.8,73.8 L265.6,73.7 L266.4,73.7 L267.2,73.6 L268.0,73.6 L268.8,73.5 L269.6,73.5 L270.4,73.4 L271.2,73.4 L272.0,73.3 L272.8,73.3 L273.6,73.2 L274.4,73.2 L275.2,73.2 L276.0,73.1 L276.8,73.1 L277.6,73.0 L278.4,73.0 L279.2,73.0 L280.0,72.9 L280.8,72.9 L281.6,72.8 L282.4,72.8 L283.2,72.8 L284.0,72.7 L284.8,72.7 L285.6,72.7 L286.4,72.6 L287.2,72.6 L288.0,72.6 L288.8,72.5 L289.6,72.5 L290.4,72.5 L291.2,72.4 L292.0,72.4 L292.8,72.4 L293.6,72.3 L294.4,72.3 L295.2,72.3 L296.0,72.2 L296.8,72.2 L297.6,72.2 L298.4,72.1 L299.2,72.1 L300.0,72.1 L300.8,72.1 L301.6,72.0 L302.4,72.0 L303.2,72.0 L304.0,72.0 L304.8,71.9 L305.6,71.9 L306.4,71.9 L307.2,71.9 L308.0,71.8 L308.8,71.8 L309.6,71.8 L310.4,71.8 L311.2,71.7 L312.0,71.7 L312.8,71.7 L313.6,71.7 L314.4,71.7 L315.2,71.6 L316.0,71.6 L316.8,71.6 L317.6,71.6 L318.4,71.6 L319.2,71.5 L320.0,71.5 L320.8,71.5 L321.6,71.5 L322.4,71.5 L323.2,71.4 L324.0,71.4 L324.8,71.4 L325.6,71.4 L326.4,71.4 L327.2,71.4 L328.0,71.3 L328.8,71.3 L329.6,71.3 L330.4,71.3 L331.2,71.3 L332.0,71.3 L332.8,71.2 L333.6,71.2 L334.4,71.2 L335.2,71.2 L336.0,71.2 L336.8,71.2 L337.6,71.1 L338.4,71.1 L339.2,71.1 L340.0,71.1 L340.8,71.1 L341.6,71.1 L342.4,71.1 L343.2,71.1 L344.0,71.0 L344.8,71.0 L345.6,71.0 L346.4,71.0 L347.2,71.0 L348.0,71.0 L348.8,71.0 L349.6,71.0 L350.4,70.9 L351.2,70.9 L352.0,70.9 L352.8,70.9 L353.6,70.9 L354.4,70.9 L355.2,70.9 L356.0,70.9 L356.8,70.9 L357.6,70.8 L358.4,70.8 L359.2,70.8 L360.0,70.8 L360.8,70.8 L361.6,70.8 L362.4,70.8 L363.2,70.8 L364.0,70.8 L364.8,70.8 L365.6,70.8 L366.4,70.7 L367.2,70.7 L368.0,70.7 L368.8,70.7 L369.6,70.7 L370.4,70.7 L371.2,70.7 L372.0,70.7 L372.8,70.7 L373.6,70.7 L374.4,70.7 L375.2,70.7 L376.0,70.7 L376.8,70.6 L377.6,70.6 L378.4,70.6 L379.2,70.6 L380.0,70.6 L380.8,70.6 L381.0,70.6" stroke="#ff00ff" stroke-width="1.25" fill="none"/>
</g>
</g>
<g>
<rect x="46.97" y="121.33" width="489.09" height="48.57" fill="none" stroke="#1a1a1a" stroke-width="1.30"/>
<path d="M46.97,169.90 v-4.90 M46.97,121.33 v4.90 M128.48,169.90 v-4.90 M128.48,121.33 v4.90 M210.00,169.90 v-4.90 M210.00,121.33 v4.90 M291.51,169.90 v-4.90 M291.51,121.33 v4.90 M373.03,169.90 v-4.90 M373.03,121.33 v4.90 M454.54,169.90 v-4.90 M454.54,121.33 v4.90 M536.06,169.90 v-4.90 M536.06,121.33 v4.90 M46.97,169.90 h4.90 M536.06,169.90 h-4.90 M46.97,145.62 h4.90 M536.06,145.62 h-4.90 M46.97,121.33 h4.90 M536.06,121.33 h-4.90" stroke="#1a1a1a" stroke-width="1.30" fill="none"/>
<clipPath id="c1"><rect x="46.97" y="120.33" width="489.09" height="50.57"/></clipPath>
<g clip-path="url(#c1)">
<path d="M47.0,145.6 L47.8,146.8 L48.6,147.8 L49.4,148.5 L50.2,149.2 L51.0,149.6 L51.8,150.0 L52.6,150.2 L53.4,150.4 L54.2,150.6 L55.0,150.8 L55.8,150.9 L56.6,151.1 L57.4,151.2 L58.2,151.3 L59.0,151.4 L59.8,151.5 L60.6,151.6 L61.4,151.7 L62.2,151.8 L63.0,152.0 L63.8,152.1 L64.6,152.2 L65.4,152.3 L66.2,152.4 L67.0,152.4 L67.8,152.3 L68.6,152.1 L69.4,151.8 L70.2,151.6 L71.0,151.4 L71.8,151.2 L72.6,150.9 L73.4,150.6 L74.2,150.4 L75.0,150.1 L75.8,149.7 L76.6,149.4 L77.4,149.0 L78.2,148.7 L79.0,148.4 L79.8,148.1 L80.6,147.8 L81.4,147.6 L82.2,147.4 L83.0,147.2 L83.8,147.1 L84.6,147.0 L85.4,146.9 L86.2,146.8 L87.0,146.8 L87.8,146.7 L88.6,146.7 L89.4,146.7 L90.2,146.7 L91.0,146.6 L91.8,146.6 L92.6,146.6 L93.4,146.6 L94.2,146.6 L95.0,146.6 L95.8,146.6 L96.6,146.6 L97.4,146.6 L98.2,146.6 L99.0,146.6 L99.8,146.6 L100.6,146.7 L101.4,146.7 L102.2,146.7 L103.0,146.7 L103.8,146.7 L104.6,146.7 L105.4,146.7 L106.2,146.7 L107.0,146.7 L107.8,146.7 L108.6,146.7 L109.4,146.7 L110.2,146.7 L111.0,146.7 L111.8,146.7 L112.6,146.7 L113.4,146.7 L114.2,146.7 L115.0,146.7 L115.8,146.6 L116.6,146.6 L117.4,146.6 L118.2,146.5 L119.0,146.5 L119.8,146.5 L120.6,146.5 L121.4,146.4 L122.2,146.4 L123.0,146.4 L123.8,146.3 L124.6,146.3 L125.4,146.2 L126.2,146.2 L127.0,146.2 L127.8,146.1 L128.6,146.1 L129.4,146.1 L130.2,146.0 L131.0,146.0 L131.8,145.9 L132.6,145.9 L133.4,145.9 L134.2,145.8 L135.0,145.8 L135.8,145.8 L136.6,145.8 L137.4,145.7 L138.2,145.7 L139.0,145.7 L139.8,145.7 L140.6,145.7 L141.4,145.6 L142.2,145.6 L143.0,145.6 L143.8,145.6 L144.6,145.6 L145.4,145.6 L146.2,145.6 L147.0,145.6 L147.8,145.6 L148.6,145.6 L149.4,145.6 L150.2,145.6 L151.0,145.6 L151.8,145.6 L152.6,145.6 L153.4,145.6 L154.2,145.6 L155.0,145.6 L155.8,145.6 L156.6,145.6 L157.4,145.6 L158.2,145.6 L159.0,145.6 L159.8,145.6 L160.6,145.6 L161.1,145.6 L169.2,145.6 L177.4,145.6 L185.5,145.6 L193.7,145.6 L201.8,145.6 L210.0,145.6 L218.2,145.6 L226.3,145.6 L234.5,145.6 L242.6,145.6 L250.8,145.6 L258.9,145.6 L267.1,145.6 L275.2,145.6 L283.4,145.6 L291.5,145.6 L299.7,145.6 L307.8,145.6 L316.0,145.6 L324.1,145.6 L332.3,145.6 L340.4,145.6 L348.6,145.6 L356.7,145.6 L364.9,145.6 L373.0,145.6 L381.2,145.6 L389.3,145.6 L397.5,145.6 L405.6,145.6 L413.8,145.6 L421.9,145.6 L430.1,145.6 L438.2,145.6 L446.4,145.6 L454.5,145.6 L462.7,145.6 L470.8,145.6 L479.0,145.6 L487.2,145.6 L495.3,145.6 L503.5,145.6 L511.6,145.6 L519.8,145.6 L527.9,145.6 L536.1,145.6" stroke="#0000ff" stroke-width="1.30" fill="none" stroke-dasharray="3.2 2"/>
<path d="M47.0,145.6 L47.8,146.4 L48.6,147.1 L49.4,147.8 L50.2,148.4 L51.0,148.9 L51.8,149.2 L52.6,149.3 L53.4,149.5 L54.2,149.6 L55.0,149.7 L55.8,149.7 L56.6,149.8 L57.4,149.8 L58.2,149.9 L59.0,149.9 L59.8,150.0 L60.6,150.0 L61.4,150.0 L62.2,150.0 L63.0,150.1 L63.8,150.1 L64.6,150.1 L65.4,150.1 L66.2,150.0 L67.0,149.9 L67.8,149.7 L68.6,149.6 L69.4,149.4 L70.2,149.2 L71.0,149.0 L71.8,148.9 L72.6,148.7 L73.4,148.5 L74.2,148.4 L75.0,148.2 L75.8,148.0 L76.6,147.9 L77.4,147.7 L78.2,147.5 L79.0,147.4 L79.8,147.2 L80.6,147.0 L81.4,146.9 L82.2,146.7 L83.0,146.6 L83.8,146.5 L84.6,146.4 L85.4,146.3 L86.2,146.3 L87.0,146.2 L87.8,146.2 L88.6,146.1 L89.4,146.1 L90.2,146.1 L91.0,146.1 L91.8,146.1 L92.6,146.1 L93.4,146.1 L94.2,146.1 L95.0,146.1 L95.8,146.0 L96.6,146.0 L97.4,146.0 L98.2,146.0 L99.0,146.0 L99.8,146.0 L100.6,146.0 L101.4,146.0 L102.2,146.0 L103.0,146.0 L103.8,146.0 L104.6,146.0 L105.4,146.0 L106.2,146.0 L107.0,146.0 L107.8,145.9 L108.6,145.9 L109.4,145.9 L110.2,145.9 L111.0,145.9 L111.8,145.9 L112.6,145.9 L113.4,145.9 L114.2,145.9 L115.0,145.9 L115.8,145.9 L116.6,145.9 L117.4,145.9 L118.2,145.9 L119.0,145.9 L119.8,145.9 L120.6,145.9 L121.4,145.8 L122.2,145.8 L123.0,145.8 L123.8,145.8 L124.6,145.8 L125.4,145.8 L126.2,145.8 L127.0,145.8 L127.8,145.8 L128.6,145.8 L129.4,145.8 L130.2,145.8 L131.0,145.7 L131.8,145.7 L132.6,145.7 L133.4,145.7 L134.2,145.7 L135.0,145.7 L135.8,145.7 L136.6,145.7 L137.4,145.7 L138.2,145.7 L139.0,145.7 L139.8,145.7 L140.6,145.6 L141.4,145.6 L142.2,145.6 L143.0,145.6 L143.8,145.6 L144.6,145.6 L145.4,145.6 L146.2,145.6 L147.0,145.6 L147.8,145.6 L148.6,145.6 L149.4,145.6 L150.2,145.6 L151.0,145.6 L151.8,145.6 L152.6,145.6 L153.4,145.6 L154.2,145.6 L155.0,145.6 L155.8,145.6 L156.6,145.6 L157.4,145.6 L158.2,145.6 L159.0,145.6 L159.8,145.6 L160.6,145.6 L161.1,145.6 L169.2,145.6 L177.4,145.6 L185.5,145.6 L193.7,145.6 L201.8,145.6 L210.0,145.6 L218.2,145.6 L226.3,145.6 L234.5,145.6 L242.6,145.6 L250.8,145.6 L258.9,145.6 L267.1,145.6 L275.2,145.6 L283.4,145.6 L291.5,145.6 L299.7,145.6 L307.8,145.6 L316.0,145.6 L324.1,145.6 L332.3,145.6 L340.4,145.6 L348.6,145.6 L356.7,145.6 L364.9,145.6 L373.0,145.6 L381.2,145.6 L389.3,145.6 L397.5,145.6 L405.6,145.6 L413.8,145.6 L421.9,145.6 L430.1,145.6 L438.2,145.6 L446.4,145.6 L454.5,145.6 L462.7,145.6 L470.8,145.6 L479.0,145.6 L487.2,145.6 L495.3,145.6 L503.5,145.6 L511.6,145.6 L519.8,145.6 L527.9,145.6 L536.1,145.6" stroke="#22ee55" stroke-width="1.40" fill="none"/>
<path d="M47.0,145.6 L47.8,145.4 L48.6,145.2 L49.4,145.2 L50.2,145.1 L51.0,145.1 L51.8,145.1 L52.6,145.1 L53.4,145.1 L54.2,145.1 L55.0,145.1 L55.8,145.1 L56.6,145.1 L57.4,145.1 L58.2,145.1 L59.0,145.1 L59.8,145.1 L60.6,145.1 L61.4,145.1 L62.2,145.1 L63.0,145.1 L63.8,145.1 L64.6,145.1 L65.4,145.1 L66.2,145.1 L67.0,145.1 L67.8,145.1 L68.6,145.1 L69.4,145.1 L70.2,145.1 L71.0,145.2 L71.8,145.2 L72.6,145.2 L73.4,145.2 L74.2,145.2 L75.0,145.2 L75.8,145.2 L76.6,145.2 L77.4,145.2 L78.2,145.2 L79.0,145.2 L79.8,145.2 L80.6,145.2 L81.4,145.2 L82.2,145.2 L83.0,145.2 L83.8,145.2 L84.6,145.2 L85.4,145.2 L86.2,145.2 L87.0,145.2 L87.8,145.2 L88.6,145.2 L89.4,145.2 L90.2,145.2 L91.0,145.2 L91.8,145.2 L92.6,145.2 L93.4,145.2 L94.2,145.2 L95.0,145.2 L95.8,145.2 L96.6,145.2 L97.4,145.2 L98.2,145.2 L99.0,145.2 L99.8,145.2 L100.6,145.2 L101.4,145.2 L102.2,145.2 L103.0,145.2 L103.8,145.3 L104.6,145.3 L105.4,145.3 L106.2,145.3 L107.0,145.3 L107.8,145.3 L108.6,145.3 L109.4,145.3 L110.2,145.3 L111.0,145.3 L111.8,145.3 L112.6,145.3 L113.4,145.3 L114.2,145.3 L115.0,145.3 L115.8,145.3 L116.6,145.3 L117.4,145.3 L118.2,145.3 L119.0,145.3 L119.8,145.3 L120.6,145.3 L121.4,145.3 L122.2,145.3 L123.0,145.3 L123.8,145.3 L124.6,145.3 L125.4,145.3 L126.2,145.3 L127.0,145.3 L127.8,145.3 L128.6,145.3 L129.4,145.3 L130.2,145.3 L131.0,145.3 L131.8,145.3 L132.6,145.3 L133.4,145.3 L134.2,145.3 L135.0,145.3 L135.8,145.3 L136.6,145.3 L137.4,145.3 L138.2,145.3 L139.0,145.3 L139.8,145.3 L140.6,145.3 L141.4,145.3 L142.2,145.3 L143.0,145.3 L143.8,145.3 L144.6,145.3 L145.4,145.3 L146.2,145.3 L147.0,145.3 L147.8,145.4 L148.6,145.4 L149.4,145.4 L150.2,145.4 L151.0,145.4 L151.8,145.4 L152.6,145.4 L153.4,145.4 L154.2,145.4 L155.0,145.4 L155.8,145.4 L156.6,145.4 L157.4,145.4 L158.2,145.4 L159.0,145.4 L159.8,145.4 L160.6,145.4 L161.1,145.4 L169.2,145.4 L177.4,145.4 L185.5,145.4 L193.7,145.4 L201.8,145.4 L210.0,145.4 L218.2,145.5 L226.3,145.5 L234.5,145.5 L242.6,145.5 L250.8,145.5 L258.9,145.5 L267.1,145.5 L275.2,145.5 L283.4,145.5 L291.5,145.5 L299.7,145.5 L307.8,145.5 L316.0,145.5 L324.1,145.5 L332.3,145.5 L340.4,145.6 L348.6,145.6 L356.7,145.6 L364.9,145.6 L373.0,145.6 L381.2,145.6 L389.3,145.6 L397.5,145.6 L405.6,145.6 L413.8,145.6 L421.9,145.6 L430.1,145.6 L438.2,145.6 L446.4,145.6 L454.5,145.6 L462.7,145.6 L470.8,145.6 L479.0,145.6 L487.2,145.6 L495.3,145.6 L503.5,145.6 L511.6,145.6 L519.8,145.6 L527.9,145.6 L536.1,145.6" stroke="#ff0000" stroke-width="1.25" fill="none" stroke-dasharray="3.2 0.8 1 0.8"/>
<path d="M47.0,121.3 L47.8,122.0 L48.6,122.6 L49.4,123.2 L50.2,123.8 L51.0,124.3 L51.8,124.9 L52.6,125.4 L53.4,125.9 L54.2,126.4 L55.0,126.9 L55.8,127.4 L56.6,127.8 L57.4,128.3 L58.2,128.7 L59.0,129.1 L59.8,129.5 L60.6,129.9 L61.4,130.3 L62.2,130.7 L63.0,131.1 L63.8,131.4 L64.6,131.8 L65.4,132.1 L66.2,132.4 L67.0,132.7 L67.8,133.0 L68.6,133.3 L69.4,133.6 L70.2,133.9 L71.0,134.2 L71.8,134.4 L72.6,134.7 L73.4,134.9 L74.2,135.2 L75.0,135.4 L75.8,135.6 L76.6,135.8 L77.4,136.0 L78.2,136.3 L79.0,136.5 L79.8,136.7 L80.6,136.8 L81.4,137.0 L82.2,137.2 L83.0,137.4 L83.8,137.5 L84.6,137.7 L85.4,137.9 L86.2,138.0 L87.0,138.2 L87.8,138.3 L88.6,138.5 L89.4,138.6 L90.2,138.7 L91.0,138.9 L91.8,139.0 L92.6,139.1 L93.4,139.2 L94.2,139.3 L95.0,139.5 L95.8,139.6 L96.6,139.7 L97.4,139.8 L98.2,139.9 L99.0,140.0 L99.8,140.1 L100.6,140.1 L101.4,140.2 L102.2,140.3 L103.0,140.4 L103.8,140.5 L104.6,140.6 L105.4,140.6 L106.2,140.7 L107.0,140.8 L107.8,140.9 L108.6,140.9 L109.4,141.0 L110.2,141.1 L111.0,141.1 L111.8,141.2 L112.6,141.2 L113.4,141.3 L114.2,141.3 L115.0,141.4 L115.8,141.4 L116.6,141.5 L117.4,141.5 L118.2,141.6 L119.0,141.6 L119.8,141.7 L120.6,141.7 L121.4,141.8 L122.2,141.8 L123.0,141.9 L123.8,141.9 L124.6,141.9 L125.4,142.0 L126.2,142.0 L127.0,142.0 L127.8,142.1 L128.6,142.1 L129.4,142.1 L130.2,142.2 L131.0,142.2 L131.8,142.2 L132.6,142.3 L133.4,142.3 L134.2,142.3 L135.0,142.3 L135.8,142.4 L136.6,142.4 L137.4,142.4 L138.2,142.4 L139.0,142.4 L139.8,142.5 L140.6,142.5 L141.4,142.5 L142.2,142.5 L143.0,142.5 L143.8,142.6 L144.6,142.6 L145.4,142.6 L146.2,142.6 L147.0,142.6 L147.8,142.7 L148.6,142.7 L149.4,142.7 L150.2,142.7 L151.0,142.7 L151.8,142.7 L152.6,142.7 L153.4,142.8 L154.2,142.8 L155.0,142.8 L155.8,142.8 L156.6,142.8 L157.4,142.8 L158.2,142.8 L159.0,142.8 L159.8,142.8 L160.6,142.9 L161.1,142.9 L169.2,142.9 L177.4,143.0 L185.5,143.1 L193.7,143.1 L201.8,143.1 L210.0,143.1 L218.2,143.1 L226.3,143.2 L234.5,143.2 L242.6,143.2 L250.8,143.2 L258.9,143.2 L267.1,143.2 L275.2,143.2 L283.4,143.2 L291.5,143.2 L299.7,143.2 L307.8,143.2 L316.0,143.2 L324.1,143.2 L332.3,143.2 L340.4,143.2 L348.6,143.2 L356.7,143.2 L364.9,143.2 L373.0,143.2 L381.2,143.2 L389.3,143.2 L397.5,143.2 L405.6,143.2 L413.8,143.2 L421.9,143.2 L430.1,143.2 L438.2,143.2 L446.4,143.2 L454.5,143.2 L462.7,143.2 L470.8,143.2 L479.0,143.2 L487.2,143.2 L495.3,143.2 L503.5,143.2 L511.6,143.2 L519.8,143.2 L527.9,143.2 L536.1,143.2" stroke="#ff00ff" stroke-width="1.25" fill="none"/>
<path d="M47.0,169.9 L47.8,169.3 L48.6,168.7 L49.4,168.1 L50.2,167.5 L51.0,166.9 L51.8,166.4 L52.6,165.8 L53.4,165.3 L54.2,164.8 L55.0,164.3 L55.8,163.9 L56.6,163.4 L57.4,162.9 L58.2,162.5 L59.0,162.1 L59.8,161.7 L60.6,161.3 L61.4,160.9 L62.2,160.5 L63.0,160.2 L63.8,159.8 L64.6,159.5 L65.4,159.1 L66.2,158.8 L67.0,158.5 L67.8,158.2 L68.6,157.9 L69.4,157.6 L70.2,157.3 L71.0,157.1 L71.8,156.8 L72.6,156.6 L73.4,156.3 L74.2,156.1 L75.0,155.8 L75.8,155.6 L76.6,155.4 L77.4,155.2 L78.2,155.0 L79.0,154.8 L79.8,154.6 L80.6,154.4 L81.4,154.2 L82.2,154.0 L83.0,153.9 L83.8,153.7 L84.6,153.5 L85.4,153.4 L86.2,153.2 L87.0,153.1 L87.8,152.9 L88.6,152.8 L89.4,152.6 L90.2,152.5 L91.0,152.4 L91.8,152.2 L92.6,152.1 L93.4,152.0 L94.2,151.9 L95.0,151.8 L95.8,151.7 L96.6,151.6 L97.4,151.5 L98.2,151.4 L99.0,151.3 L99.8,151.2 L100.6,151.1 L101.4,151.0 L102.2,150.9 L103.0,150.8 L103.8,150.7 L104.6,150.7 L105.4,150.6 L106.2,150.5 L107.0,150.4 L107.8,150.4 L108.6,150.3 L109.4,150.2 L110.2,150.2 L111.0,150.1 L111.8,150.1 L112.6,150.0 L113.4,149.9 L114.2,149.9 L115.0,149.8 L115.8,149.8 L116.6,149.7 L117.4,149.7 L118.2,149.6 L119.0,149.6 L119.8,149.5 L120.6,149.5 L121.4,149.5 L122.2,149.4 L123.0,149.4 L123.8,149.3 L124.6,149.3 L125.4,149.3 L126.2,149.2 L127.0,149.2 L127.8,149.2 L128.6,149.1 L129.4,149.1 L130.2,149.1 L131.0,149.0 L131.8,149.0 L132.6,149.0 L133.4,149.0 L134.2,148.9 L135.0,148.9 L135.8,148.9 L136.6,148.9 L137.4,148.8 L138.2,148.8 L139.0,148.8 L139.8,148.8 L140.6,148.7 L141.4,148.7 L142.2,148.7 L143.0,148.7 L143.8,148.7 L144.6,148.6 L145.4,148.6 L146.2,148.6 L147.0,148.6 L147.8,148.6 L148.6,148.6 L149.4,148.5 L150.2,148.5 L151.0,148.5 L151.8,148.5 L152.6,148.5 L153.4,148.5 L154.2,148.5 L155.0,148.5 L155.8,148.4 L156.6,148.4 L157.4,148.4 L158.2,148.4 L159.0,148.4 L159.8,148.4 L160.6,148.4 L161.1,148.4 L169.2,148.3 L177.4,148.2 L185.5,148.2 L193.7,148.1 L201.8,148.1 L210.0,148.1 L218.2,148.1 L226.3,148.1 L234.5,148.1 L242.6,148.1 L250.8,148.1 L258.9,148.1 L267.1,148.1 L275.2,148.0 L283.4,148.0 L291.5,148.0 L299.7,148.0 L307.8,148.0 L316.0,148.0 L324.1,148.0 L332.3,148.0 L340.4,148.0 L348.6,148.0 L356.7,148.0 L364.9,148.0 L373.0,148.0 L381.2,148.0 L389.3,148.0 L397.5,148.0 L405.6,148.0 L413.8,148.0 L421.9,148.0 L430.1,148.0 L438.2,148.0 L446.4,148.0 L454.5,148.0 L462.7,148.0 L470.8,148.0 L479.0,148.0 L487.2,148.0 L495.3,148.0 L503.5,148.0 L511.6,148.0 L519.8,148.0 L527.9,148.0 L536.1,148.0" stroke="#ff00ff" stroke-width="1.25" fill="none"/>
</g>
<rect x="171.97" y="125.29" width="209.00" height="41.38" fill="#fff" stroke="none"/>
<rect x="171.97" y="125.29" width="209.00" height="41.38" fill="none" stroke="#1a1a1a" stroke-width="1.30"/>
<path d="M171.97,166.67 v-2.10 M171.97,125.29 v2.10 M206.89,166.67 v-2.10 M206.89,125.29 v2.10 M241.81,166.67 v-2.10 M241.81,125.29 v2.10 M276.73,166.67 v-2.10 M276.73,125.29 v2.10 M311.65,166.67 v-2.10 M311.65,125.29 v2.10 M346.57,166.67 v-2.10 M346.57,125.29 v2.10 M171.97,166.67 h2.10 M380.97,166.67 h-2.10 M171.97,145.98 h2.10 M380.97,145.98 h-2.10 M171.97,125.29 h2.10 M380.97,125.29 h-2.10" stroke="#1a1a1a" stroke-width="0.8" fill="none"/>
<clipPath id="ic1"><rect x="171.97" y="124.29" width="209.00" height="43.38"/></clipPath>
<g clip-path="url(#ic1)">
<path d="M172.0,146.0 L172.8,146.5 L173.6,146.9 L174.4,147.3 L175.2,147.7 L176.0,148.0 L176.8,148.3 L177.6,148.6 L178.4,148.9 L179.2,149.1 L180.0,149.3 L180.8,149.4 L181.6,149.6 L182.4,149.7 L183.2,149.8 L184.0,149.9 L184.8,150.0 L185.6,150.1 L186.4,150.2 L187.2,150.2 L188.0,150.3 L188.8,150.4 L189.6,150.4 L190.4,150.5 L191.2,150.5 L192.0,150.6 L192.8,150.6 L193.6,150.7 L194.4,150.7 L195.2,150.8 L196.0,150.8 L196.8,150.8 L197.6,150.9 L198.4,150.9 L199.2,151.0 L200.0,151.0 L200.8,151.0 L201.6,151.1 L202.4,151.1 L203.2,151.2 L204.0,151.2 L204.8,151.3 L205.6,151.4 L206.4,151.4 L207.2,151.5 L208.0,151.5 L208.8,151.6 L209.6,151.6 L210.4,151.6 L211.2,151.7 L212.0,151.7 L212.8,151.8 L213.6,151.8 L214.4,151.8 L215.2,151.7 L216.0,151.7 L216.8,151.6 L217.6,151.5 L218.4,151.5 L219.2,151.4 L220.0,151.3 L220.8,151.2 L221.6,151.1 L222.4,151.0 L223.2,150.9 L224.0,150.8 L224.8,150.7 L225.6,150.6 L226.4,150.5 L227.2,150.4 L228.0,150.3 L228.8,150.2 L229.6,150.1 L230.4,150.0 L231.2,149.9 L232.0,149.8 L232.8,149.6 L233.6,149.5 L234.4,149.4 L235.2,149.2 L236.0,149.1 L236.8,148.9 L237.6,148.8 L238.4,148.6 L239.2,148.5 L240.0,148.4 L240.8,148.3 L241.6,148.2 L242.4,148.1 L243.2,148.0 L244.0,147.9 L244.8,147.8 L245.6,147.7 L246.4,147.6 L247.2,147.5 L248.0,147.4 L248.8,147.4 L249.6,147.3 L250.4,147.3 L251.2,147.2 L252.0,147.2 L252.8,147.1 L253.6,147.1 L254.4,147.1 L255.2,147.1 L256.0,147.0 L256.8,147.0 L257.6,147.0 L258.4,147.0 L259.2,146.9 L260.0,146.9 L260.8,146.9 L261.6,146.9 L262.4,146.9 L263.2,146.9 L264.0,146.9 L264.8,146.9 L265.6,146.9 L266.4,146.9 L267.2,146.8 L268.0,146.8 L268.8,146.8 L269.6,146.8 L270.4,146.8 L271.2,146.8 L272.0,146.8 L272.8,146.8 L273.6,146.8 L274.4,146.8 L275.2,146.8 L276.0,146.8 L276.8,146.8 L277.6,146.8 L278.4,146.8 L279.2,146.8 L280.0,146.8 L280.8,146.8 L281.6,146.8 L282.4,146.8 L283.2,146.8 L284.0,146.8 L284.8,146.9 L285.6,146.9 L286.4,146.9 L287.2,146.9 L288.0,146.9 L288.8,146.9 L289.6,146.9 L290.4,146.9 L291.2,146.9 L292.0,146.9 L292.8,146.9 L293.6,146.9 L294.4,146.9 L295.2,146.9 L296.0,146.9 L296.8,146.9 L297.6,146.9 L298.4,146.9 L299.2,146.9 L300.0,146.9 L300.8,146.9 L301.6,146.9 L302.4,146.9 L303.2,146.9 L304.0,146.9 L304.8,146.9 L305.6,146.9 L306.4,146.9 L307.2,146.9 L308.0,146.9 L308.8,146.9 L309.6,146.9 L310.4,146.9 L311.2,146.9 L312.0,146.9 L312.8,146.9 L313.6,146.9 L314.4,146.9 L315.2,146.9 L316.0,146.9 L316.8,146.9 L317.6,146.9 L318.4,146.9 L319.2,146.9 L320.0,146.8 L320.8,146.8 L321.6,146.8 L322.4,146.8 L323.2,146.8 L324.0,146.8 L324.8,146.8 L325.6,146.8 L326.4,146.7 L327.2,146.7 L328.0,146.7 L328.8,146.7 L329.6,146.7 L330.4,146.7 L331.2,146.7 L332.0,146.7 L332.8,146.6 L333.6,146.6 L334.4,146.6 L335.2,146.6 L336.0,146.6 L336.8,146.6 L337.6,146.6 L338.4,146.5 L339.2,146.5 L340.0,146.5 L340.8,146.5 L341.6,146.5 L342.4,146.5 L343.2,146.5 L344.0,146.4 L344.8,146.4 L345.6,146.4 L346.4,146.4 L347.2,146.4 L348.0,146.4 L348.8,146.4 L349.6,146.3 L350.4,146.3 L351.2,146.3 L352.0,146.3 L352.8,146.3 L353.6,146.3 L354.4,146.3 L355.2,146.2 L356.0,146.2 L356.8,146.2 L357.6,146.2 L358.4,146.2 L359.2,146.2 L360.0,146.2 L360.8,146.1 L361.6,146.1 L362.4,146.1 L363.2,146.1 L364.0,146.1 L364.8,146.1 L365.6,146.1 L366.4,146.1 L367.2,146.1 L368.0,146.1 L368.8,146.1 L369.6,146.0 L370.4,146.0 L371.2,146.0 L372.0,146.0 L372.8,146.0 L373.6,146.0 L374.4,146.0 L375.2,146.0 L376.0,146.0 L376.8,146.0 L377.6,146.0 L378.4,146.0 L379.2,146.0 L380.0,146.0 L380.8,146.0 L381.0,146.0" stroke="#0000ff" stroke-width="1.30" fill="none" stroke-dasharray="3.2 2"/>
<path d="M172.0,146.0 L172.8,146.3 L173.6,146.6 L174.4,146.9 L175.2,147.2 L176.0,147.4 L176.8,147.7 L177.6,148.0 L178.4,148.2 L179.2,148.5 L180.0,148.7 L180.8,148.8 L181.6,148.9 L182.4,149.0 L183.2,149.1 L184.0,149.1 L184.8,149.2 L185.6,149.3 L186.4,149.3 L187.2,149.3 L188.0,149.4 L188.8,149.4 L189.6,149.4 L190.4,149.5 L191.2,149.5 L192.0,149.5 L192.8,149.5 L193.6,149.6 L194.4,149.6 L195.2,149.6 L196.0,149.6 L196.8,149.6 L197.6,149.7 L198.4,149.7 L199.2,149.7 L200.0,149.7 L200.8,149.7 L201.6,149.7 L202.4,149.7 L203.2,149.7 L204.0,149.7 L204.8,149.8 L205.6,149.8 L206.4,149.8 L207.2,149.8 L208.0,149.8 L208.8,149.8 L209.6,149.8 L210.4,149.8 L211.2,149.8 L212.0,149.8 L212.8,149.8 L213.6,149.7 L214.4,149.7 L215.2,149.6 L216.0,149.5 L216.8,149.5 L217.6,149.4 L218.4,149.3 L219.2,149.2 L220.0,149.2 L220.8,149.1 L221.6,149.0 L222.4,149.0 L223.2,148.9 L224.0,148.8 L224.8,148.8 L225.6,148.7 L226.4,148.6 L227.2,148.6 L228.0,148.5 L228.8,148.4 L229.6,148.4 L230.4,148.3 L231.2,148.2 L232.0,148.2 L232.8,148.1 L233.6,148.0 L234.4,148.0 L235.2,147.9 L236.0,147.8 L236.8,147.8 L237.6,147.7 L238.4,147.6 L239.2,147.6 L240.0,147.5 L240.8,147.4 L241.6,147.4 L242.4,147.3 L243.2,147.2 L244.0,147.2 L244.8,147.1 L245.6,147.1 L246.4,147.0 L247.2,146.9 L248.0,146.9 L248.8,146.8 L249.6,146.8 L250.4,146.7 L251.2,146.7 L252.0,146.7 L252.8,146.6 L253.6,146.6 L254.4,146.6 L255.2,146.6 L256.0,146.5 L256.8,146.5 L257.6,146.5 L258.4,146.5 L259.2,146.5 L260.0,146.4 L260.8,146.4 L261.6,146.4 L262.4,146.4 L263.2,146.4 L264.0,146.4 L264.8,146.4 L265.6,146.4 L266.4,146.4 L267.2,146.4 L268.0,146.4 L268.8,146.4 L269.6,146.4 L270.4,146.4 L271.2,146.4 L272.0,146.4 L272.8,146.4 L273.6,146.4 L274.4,146.4 L275.2,146.4 L276.0,146.3 L276.8,146.3 L277.6,146.3 L278.4,146.3 L279.2,146.3 L280.0,146.3 L280.8,146.3 L281.6,146.3 L282.4,146.3 L283.2,146.3 L284.0,146.3 L284.8,146.3 L285.6,146.3 L286.4,146.3 L287.2,146.3 L288.0,146.3 L288.8,146.3 L289.6,146.3 L290.4,146.3 L291.2,146.3 L292.0,146.3 L292.8,146.3 L293.6,146.3 L294.4,146.3 L295.2,146.3 L296.0,146.3 L296.8,146.3 L297.6,146.3 L298.4,146.3 L299.2,146.3 L300.0,146.3 L300.8,146.3 L301.6,146.3 L302.4,146.3 L303.2,146.3 L304.0,146.3 L304.8,146.3 L305.6,146.3 L306.4,146.3 L307.2,146.3 L308.0,146.2 L308.8,146.2 L309.6,146.2 L310.4,146.2 L311.2,146.2 L312.0,146.2 L312.8,146.2 L313.6,146.2 L314.4,146.2 L315.2,146.2 L316.0,146.2 L316.8,146.2 L317.6,146.2 L318.4,146.2 L319.2,146.2 L320.0,146.2 L320.8,146.2 L321.6,146.2 L322.4,146.2 L323.2,146.2 L324.0,146.2 L324.8,146.2 L325.6,146.2 L326.4,146.2 L327.2,146.2 L328.0,146.2 L328.8,146.2 L329.6,146.2 L330.4,146.2 L331.2,146.2 L332.0,146.2 L332.8,146.2 L333.6,146.2 L334.4,146.2 L335.2,146.2 L336.0,146.2 L336.8,146.2 L337.6,146.2 L338.4,146.2 L339.2,146.1 L340.0,146.1 L340.8,146.1 L341.6,146.1 L342.4,146.1 L343.2,146.1 L344.0,146.1 L344.8,146.1 L345.6,146.1 L346.4,146.1 L347.2,146.1 L348.0,146.1 L348.8,146.1 L349.6,146.1 L350.4,146.1 L351.2,146.1 L352.0,146.1 L352.8,146.1 L353.6,146.1 L354.4,146.1 L355.2,146.1 L356.0,146.1 L356.8,146.1 L357.6,146.1 L358.4,146.1 L359.2,146.1 L360.0,146.1 L360.8,146.1 L361.6,146.1 L362.4,146.0 L363.2,146.0 L364.0,146.0 L364.8,146.0 L365.6,146.0 L366.4,146.0 L367.2,146.0 L368.0,146.0 L368.8,146.0 L369.6,146.0 L370.4,146.0 L371.2,146.0 L372.0,146.0 L372.8,146.0 L373.6,146.0 L374.4,146.0 L375.2,146.0 L376.0,146.0 L376.8,146.0 L377.6,146.0 L378.4,146.0 L379.2,146.0 L380.0,146.0 L380.8,146.0 L381.0,146.0" stroke="#22ee55" stroke-width="1.40" fill="none"/>
<path d="M172.0,146.0 L172.8,145.9 L173.6,145.8 L174.4,145.7 L175.2,145.7 L176.0,145.6 L176.8,145.6 L177.6,145.6 L178.4,145.6 L179.2,145.6 L180.0,145.5 L180.8,145.5 L181.6,145.5 L182.4,145.5 L183.2,145.5 L184.0,145.5 L184.8,145.5 L185.6,145.5 L186.4,145.5 L187.2,145.5 L188.0,145.5 L188.8,145.5 L189.6,145.5 L190.4,145.5 L191.2,145.5 L192.0,145.5 L192.8,145.5 L193.6,145.5 L194.4,145.5 L195.2,145.5 L196.0,145.5 L196.8,145.5 L197.6,145.5 L198.4,145.5 L199.2,145.6 L200.0,145.6 L200.8,145.6 L201.6,145.6 L202.4,145.6 L203.2,145.6 L204.0,145.6 L204.8,145.6 L205.6,145.6 L206.4,145.6 L207.2,145.6 L208.0,145.6 L208.8,145.6 L209.6,145.6 L210.4,145.6 L211.2,145.6 L212.0,145.6 L212.8,145.6 L213.6,145.6 L214.4,145.6 L215.2,145.6 L216.0,145.6 L216.8,145.6 L217.6,145.6 L218.4,145.6 L219.2,145.6 L220.0,145.6 L220.8,145.6 L221.6,145.6 L222.4,145.6 L223.2,145.6 L224.0,145.6 L224.8,145.6 L225.6,145.6 L226.4,145.6 L227.2,145.6 L228.0,145.6 L228.8,145.6 L229.6,145.6 L230.4,145.6 L231.2,145.6 L232.0,145.6 L232.8,145.6 L233.6,145.6 L234.4,145.6 L235.2,145.6 L236.0,145.6 L236.8,145.6 L237.6,145.6 L238.4,145.6 L239.2,145.6 L240.0,145.6 L240.8,145.6 L241.6,145.6 L242.4,145.6 L243.2,145.6 L244.0,145.6 L244.8,145.6 L245.6,145.6 L246.4,145.6 L247.2,145.6 L248.0,145.6 L248.8,145.6 L249.6,145.6 L250.4,145.6 L251.2,145.6 L252.0,145.6 L252.8,145.6 L253.6,145.6 L254.4,145.6 L255.2,145.6 L256.0,145.6 L256.8,145.6 L257.6,145.6 L258.4,145.6 L259.2,145.6 L260.0,145.6 L260.8,145.6 L261.6,145.6 L262.4,145.6 L263.2,145.6 L264.0,145.6 L264.8,145.6 L265.6,145.6 L266.4,145.6 L267.2,145.6 L268.0,145.6 L268.8,145.6 L269.6,145.6 L270.4,145.6 L271.2,145.6 L272.0,145.6 L272.8,145.6 L273.6,145.6 L274.4,145.6 L275.2,145.6 L276.0,145.6 L276.8,145.7 L277.6,145.7 L278.4,145.7 L279.2,145.7 L280.0,145.7 L280.8,145.7 L281.6,145.7 L282.4,145.7 L283.2,145.7 L284.0,145.7 L284.8,145.7 L285.6,145.7 L286.4,145.7 L287.2,145.7 L288.0,145.7 L288.8,145.7 L289.6,145.7 L290.4,145.7 L291.2,145.7 L292.0,145.7 L292.8,145.7 L293.6,145.7 L294.4,145.7 L295.2,145.7 L296.0,145.7 L296.8,145.7 L297.6,145.7 L298.4,145.7 L299.2,145.7 L300.0,145.7 L300.8,145.7 L301.6,145.7 L302.4,145.7 L303.2,145.7 L304.0,145.7 L304.8,145.7 L305.6,145.7 L306.4,145.7 L307.2,145.7 L308.0,145.7 L308.8,145.7 L309.6,145.7 L310.4,145.7 L311.2,145.7 L312.0,145.7 L312.8,145.7 L313.6,145.7 L314.4,145.7 L315.2,145.7 L316.0,145.7 L316.8,145.7 L317.6,145.7 L318.4,145.7 L319.2,145.7 L320.0,145.7 L320.8,145.7 L321.6,145.7 L322.4,145.7 L323.2,145.7 L324.0,145.7 L324.8,145.7 L325.6,145.7 L326.4,145.7 L327.2,145.7 L328.0,145.7 L328.8,145.7 L329.6,145.7 L330.4,145.7 L331.2,145.7 L332.0,145.7 L332.8,145.7 L333.6,145.7 L334.4,145.7 L335.2,145.7 L336.0,145.7 L336.8,145.7 L337.6,145.7 L338.4,145.7 L339.2,145.7 L340.0,145.7 L340.8,145.7 L341.6,145.7 L342.4,145.7 L343.2,145.7 L344.0,145.7 L344.8,145.7 L345.6,145.7 L346.4,145.7 L347.2,145.7 L348.0,145.7 L348.8,145.7 L349.6,145.7 L350.4,145.7 L351.2,145.7 L352.0,145.7 L352.8,145.7 L353.6,145.7 L354.4,145.7 L355.2,145.7 L356.0,145.7 L356.8,145.7 L357.6,145.7 L358.4,145.7 L359.2,145.7 L360.0,145.7 L360.8,145.7 L361.6,145.7 L362.4,145.7 L363.2,145.7 L364.0,145.7 L364.8,145.7 L365.6,145.7 L366.4,145.7 L367.2,145.7 L368.0,145.7 L368.8,145.7 L369.6,145.7 L370.4,145.7 L371.2,145.7 L372.0,145.7 L372.8,145.7 L373.6,145.7 L374.4,145.7 L375.2,145.7 L376.0,145.7 L376.8,145.7 L377.6,145.7 L378.4,145.7 L379.2,145.7 L380.0,145.7 L380.8,145.7 L381.0,145.7" stroke="#ff0000" stroke-width="1.25" fill="none" stroke-dasharray="3.2 0.8 1 0.8"/>
<path d="M172.0,125.3 L172.8,125.5 L173.6,125.8 L174.4,126.0 L175.2,126.3 L176.0,126.5 L176.8,126.8 L177.6,127.0 L178.4,127.2 L179.2,127.5 L180.0,127.7 L180.8,127.9 L181.6,128.1 L182.4,128.3 L183.2,128.5 L184.0,128.8 L184.8,129.0 L185.6,129.2 L186.4,129.4 L187.2,129.6 L188.0,129.8 L188.8,130.0 L189.6,130.1 L190.4,130.3 L191.2,130.5 L192.0,130.7 L192.8,130.9 L193.6,131.1 L194.4,131.2 L195.2,131.4 L196.0,131.6 L196.8,131.8 L197.6,131.9 L198.4,132.1 L199.2,132.2 L200.0,132.4 L200.8,132.6 L201.6,132.7 L202.4,132.9 L203.2,133.0 L204.0,133.2 L204.8,133.3 L205.6,133.5 L206.4,133.6 L207.2,133.7 L208.0,133.9 L208.8,134.0 L209.6,134.2 L210.4,134.3 L211.2,134.4 L212.0,134.5 L212.8,134.7 L213.6,134.8 L214.4,134.9 L215.2,135.0 L216.0,135.2 L216.8,135.3 L217.6,135.4 L218.4,135.5 L219.2,135.6 L220.0,135.7 L220.8,135.9 L221.6,136.0 L222.4,136.1 L223.2,136.2 L224.0,136.3 L224.8,136.4 L225.6,136.5 L226.4,136.6 L227.2,136.7 L228.0,136.8 L228.8,136.9 L229.6,137.0 L230.4,137.1 L231.2,137.2 L232.0,137.3 L232.8,137.4 L233.6,137.4 L234.4,137.5 L235.2,137.6 L236.0,137.7 L236.8,137.8 L237.6,137.9 L238.4,138.0 L239.2,138.0 L240.0,138.1 L240.8,138.2 L241.6,138.3 L242.4,138.4 L243.2,138.4 L244.0,138.5 L244.8,138.6 L245.6,138.7 L246.4,138.7 L247.2,138.8 L248.0,138.9 L248.8,138.9 L249.6,139.0 L250.4,139.1 L251.2,139.1 L252.0,139.2 L252.8,139.3 L253.6,139.3 L254.4,139.4 L255.2,139.5 L256.0,139.5 L256.8,139.6 L257.6,139.6 L258.4,139.7 L259.2,139.7 L260.0,139.8 L260.8,139.9 L261.6,139.9 L262.4,140.0 L263.2,140.0 L264.0,140.1 L264.8,140.1 L265.6,140.2 L266.4,140.2 L267.2,140.3 L268.0,140.3 L268.8,140.4 L269.6,140.4 L270.4,140.5 L271.2,140.5 L272.0,140.6 L272.8,140.6 L273.6,140.7 L274.4,140.7 L275.2,140.7 L276.0,140.8 L276.8,140.8 L277.6,140.9 L278.4,140.9 L279.2,141.0 L280.0,141.0 L280.8,141.0 L281.6,141.1 L282.4,141.1 L283.2,141.2 L284.0,141.2 L284.8,141.2 L285.6,141.3 L286.4,141.3 L287.2,141.3 L288.0,141.4 L288.8,141.4 L289.6,141.4 L290.4,141.5 L291.2,141.5 L292.0,141.5 L292.8,141.6 L293.6,141.6 L294.4,141.6 L295.2,141.7 L296.0,141.7 L296.8,141.7 L297.6,141.8 L298.4,141.8 L299.2,141.8 L300.0,141.8 L300.8,141.9 L301.6,141.9 L302.4,141.9 L303.2,142.0 L304.0,142.0 L304.8,142.0 L305.6,142.0 L306.4,142.1 L307.2,142.1 L308.0,142.1 L308.8,142.1 L309.6,142.2 L310.4,142.2 L311.2,142.2 L312.0,142.2 L312.8,142.3 L313.6,142.3 L314.4,142.3 L315.2,142.3 L316.0,142.3 L316.8,142.4 L317.6,142.4 L318.4,142.4 L319.2,142.4 L320.0,142.4 L320.8,142.5 L321.6,142.5 L322.4,142.5 L323.2,142.5 L324.0,142.5 L324.8,142.6 L325.6,142.6 L326.4,142.6 L327.2,142.6 L328.0,142.6 L328.8,142.7 L329.6,142.7 L330.4,142.7 L331.2,142.7 L332.0,142.7 L332.8,142.7 L333.6,142.8 L334.4,142.8 L335.2,142.8 L336.0,142.8 L336.8,142.8 L337.6,142.8 L338.4,142.8 L339.2,142.9 L340.0,142.9 L340.8,142.9 L341.6,142.9 L342.4,142.9 L343.2,142.9 L344.0,142.9 L344.8,143.0 L345.6,143.0 L346.4,143.0 L347.2,143.0 L348.0,143.0 L348.8,143.0 L349.6,143.0 L350.4,143.0 L351.2,143.1 L352.0,143.1 L352.8,143.1 L353.6,143.1 L354.4,143.1 L355.2,143.1 L356.0,143.1 L356.8,143.1 L357.6,143.1 L358.4,143.2 L359.2,143.2 L360.0,143.2 L360.8,143.2 L361.6,143.2 L362.4,143.2 L363.2,143.2 L364.0,143.2 L364.8,143.2 L365.6,143.2 L366.4,143.3 L367.2,143.3 L368.0,143.3 L368.8,143.3 L369.6,143.3 L370.4,143.3 L371.2,143.3 L372.0,143.3 L372.8,143.3 L373.6,143.3 L374.4,143.3 L375.2,143.3 L376.0,143.4 L376.8,143.4 L377.6,143.4 L378.4,143.4 L379.2,143.4 L380.0,143.4 L380.8,143.4 L381.0,143.4" stroke="#ff00ff" stroke-width="1.25" fill="none"/>
<path d="M172.0,166.7 L172.8,166.4 L173.6,166.2 L174.4,165.9 L175.2,165.7 L176.0,165.4 L176.8,165.2 L177.6,165.0 L178.4,164.7 L179.2,164.5 L180.0,164.3 L180.8,164.1 L181.6,163.8 L182.4,163.6 L183.2,163.4 L184.0,163.2 L184.8,163.0 L185.6,162.8 L186.4,162.6 L187.2,162.4 L188.0,162.2 L188.8,162.0 L189.6,161.8 L190.4,161.6 L191.2,161.4 L192.0,161.3 L192.8,161.1 L193.6,160.9 L194.4,160.7 L195.2,160.5 L196.0,160.4 L196.8,160.2 L197.6,160.0 L198.4,159.9 L199.2,159.7 L200.0,159.6 L200.8,159.4 L201.6,159.2 L202.4,159.1 L203.2,158.9 L204.0,158.8 L204.8,158.6 L205.6,158.5 L206.4,158.4 L207.2,158.2 L208.0,158.1 L208.8,157.9 L209.6,157.8 L210.4,157.7 L211.2,157.5 L212.0,157.4 L212.8,157.3 L213.6,157.2 L214.4,157.0 L215.2,156.9 L216.0,156.8 L216.8,156.7 L217.6,156.6 L218.4,156.4 L219.2,156.3 L220.0,156.2 L220.8,156.1 L221.6,156.0 L222.4,155.9 L223.2,155.8 L224.0,155.7 L224.8,155.6 L225.6,155.5 L226.4,155.4 L227.2,155.3 L228.0,155.2 L228.8,155.1 L229.6,155.0 L230.4,154.9 L231.2,154.8 L232.0,154.7 L232.8,154.6 L233.6,154.5 L234.4,154.4 L235.2,154.3 L236.0,154.2 L236.8,154.2 L237.6,154.1 L238.4,154.0 L239.2,153.9 L240.0,153.8 L240.8,153.8 L241.6,153.7 L242.4,153.6 L243.2,153.5 L244.0,153.5 L244.8,153.4 L245.6,153.3 L246.4,153.2 L247.2,153.2 L248.0,153.1 L248.8,153.0 L249.6,153.0 L250.4,152.9 L251.2,152.8 L252.0,152.8 L252.8,152.7 L253.6,152.6 L254.4,152.6 L255.2,152.5 L256.0,152.4 L256.8,152.4 L257.6,152.3 L258.4,152.3 L259.2,152.2 L260.0,152.2 L260.8,152.1 L261.6,152.0 L262.4,152.0 L263.2,151.9 L264.0,151.9 L264.8,151.8 L265.6,151.8 L266.4,151.7 L267.2,151.7 L268.0,151.6 L268.8,151.6 L269.6,151.5 L270.4,151.5 L271.2,151.4 L272.0,151.4 L272.8,151.3 L273.6,151.3 L274.4,151.3 L275.2,151.2 L276.0,151.2 L276.8,151.1 L277.6,151.1 L278.4,151.0 L279.2,151.0 L280.0,151.0 L280.8,150.9 L281.6,150.9 L282.4,150.8 L283.2,150.8 L284.0,150.8 L284.8,150.7 L285.6,150.7 L286.4,150.7 L287.2,150.6 L288.0,150.6 L288.8,150.6 L289.6,150.5 L290.4,150.5 L291.2,150.5 L292.0,150.4 L292.8,150.4 L293.6,150.4 L294.4,150.3 L295.2,150.3 L296.0,150.3 L296.8,150.2 L297.6,150.2 L298.4,150.2 L299.2,150.1 L300.0,150.1 L300.8,150.1 L301.6,150.1 L302.4,150.0 L303.2,150.0 L304.0,150.0 L304.8,150.0 L305.6,149.9 L306.4,149.9 L307.2,149.9 L308.0,149.8 L308.8,149.8 L309.6,149.8 L310.4,149.8 L311.2,149.8 L312.0,149.7 L312.8,149.7 L313.6,149.7 L314.4,149.7 L315.2,149.6 L316.0,149.6 L316.8,149.6 L317.6,149.6 L318.4,149.6 L319.2,149.5 L320.0,149.5 L320.8,149.5 L321.6,149.5 L322.4,149.5 L323.2,149.4 L324.0,149.4 L324.8,149.4 L325.6,149.4 L326.4,149.4 L327.2,149.3 L328.0,149.3 L328.8,149.3 L329.6,149.3 L330.4,149.3 L331.2,149.3 L332.0,149.2 L332.8,149.2 L333.6,149.2 L334.4,149.2 L335.2,149.2 L336.0,149.2 L336.8,149.1 L337.6,149.1 L338.4,149.1 L339.2,149.1 L340.0,149.1 L340.8,149.1 L341.6,149.1 L342.4,149.0 L343.2,149.0 L344.0,149.0 L344.8,149.0 L345.6,149.0 L346.4,149.0 L347.2,149.0 L348.0,149.0 L348.8,148.9 L349.6,148.9 L350.4,148.9 L351.2,148.9 L352.0,148.9 L352.8,148.9 L353.6,148.9 L354.4,148.9 L355.2,148.8 L356.0,148.8 L356.8,148.8 L357.6,148.8 L358.4,148.8 L359.2,148.8 L360.0,148.8 L360.8,148.8 L361.6,148.8 L362.4,148.8 L363.2,148.7 L364.0,148.7 L364.8,148.7 L365.6,148.7 L366.4,148.7 L367.2,148.7 L368.0,148.7 L368.8,148.7 L369.6,148.7 L370.4,148.7 L371.2,148.7 L372.0,148.6 L372.8,148.6 L373.6,148.6 L374.4,148.6 L375.2,148.6 L376.0,148.6 L376.8,148.6 L377.6,148.6 L378.4,148.6 L379.2,148.6 L380.0,148.6 L380.8,148.6 L381.0,148.6" stroke="#ff00ff" stroke-width="1.25" fill="none"/>
</g>
</g>
<g>
<rect x="46.97" y="198.76" width="489.09" height="48.53" fill="none" stroke="#1a1a1a" stroke-width="1.30"/>
<path d="M46.97,247.29 v-4.90 M46.97,198.76 v4.90 M128.48,247.29 v-4.90 M128.48,198.76 v4.90 M210.00,247.29 v-4.90 M210.00,198.76 v4.90 M291.51,247.29 v-4.90 M291.51,198.76 v4.90 M373.03,247.29 v-4.90 M373.03,198.76 v4.90 M454.54,247.29 v-4.90 M454.54,198.76 v4.90 M536.06,247.29 v-4.90 M536.06,198.76 v4.90 M46.97,247.29 h4.90 M536.06,247.29 h-4.90 M46.97,223.02 h4.90 M536.06,223.02 h-4.90 M46.97,198.76 h4.90 M536.06,198.76 h-4.90" stroke="#1a1a1a" stroke-width="1.30" fill="none"/>
<clipPath id="c2"><rect x="46.97" y="197.76" width="489.09" height="50.53"/></clipPath>
<g clip-path="url(#c2)">
<path d="M47.0,223.0 L47.8,222.7 L48.6,222.4 L49.4,222.1 L50.2,221.8 L51.0,221.6 L51.8,221.4 L52.6,221.2 L53.4,221.0 L54.2,220.8 L55.0,220.6 L55.8,220.5 L56.6,220.3 L57.4,220.2 L58.2,220.0 L59.0,219.9 L59.8,219.9 L60.6,219.9 L61.4,219.9 L62.2,220.0 L63.0,220.1 L63.8,220.2 L64.6,220.3 L65.4,220.4 L66.2,220.6 L67.0,220.8 L67.8,221.0 L68.6,221.3 L69.4,221.5 L70.2,221.7 L71.0,221.9 L71.8,222.0 L72.6,222.2 L73.4,222.3 L74.2,222.5 L75.0,222.6 L75.8,222.7 L76.6,222.8 L77.4,222.9 L78.2,223.0 L79.0,223.1 L79.8,223.2 L80.6,223.3 L81.4,223.4 L82.2,223.5 L83.0,223.5 L83.8,223.5 L84.6,223.5 L85.4,223.5 L86.2,223.5 L87.0,223.5 L87.8,223.5 L88.6,223.5 L89.4,223.5 L90.2,223.5 L91.0,223.5 L91.8,223.5 L92.6,223.5 L93.4,223.5 L94.2,223.5 L95.0,223.5 L95.8,223.5 L96.6,223.5 L97.4,223.5 L98.2,223.5 L99.0,223.5 L99.8,223.5 L100.6,223.5 L101.4,223.4 L102.2,223.4 L103.0,223.4 L103.8,223.4 L104.6,223.4 L105.4,223.3 L106.2,223.3 L107.0,223.3 L107.8,223.3 L108.6,223.3 L109.4,223.2 L110.2,223.2 L111.0,223.2 L111.8,223.2 L112.6,223.2 L113.4,223.1 L114.2,223.1 L115.0,223.1 L115.8,223.1 L116.6,223.1 L117.4,223.1 L118.2,223.0 L119.0,223.0 L119.8,223.0 L120.6,223.0 L121.4,223.0 L122.2,223.0 L123.0,223.0 L123.8,223.0 L124.6,223.0 L125.4,223.0 L126.2,223.0 L127.0,223.0 L127.8,223.0 L128.6,223.0 L129.4,223.0 L130.2,223.0 L131.0,223.0 L131.8,223.0 L132.6,223.0 L133.4,223.0 L134.2,223.0 L135.0,223.0 L135.8,223.0 L136.6,223.0 L137.4,223.0 L138.2,223.0 L139.0,223.0 L139.8,223.0 L140.6,223.0 L141.4,223.0 L142.2,223.0 L143.0,223.0 L143.8,223.0 L144.6,223.0 L145.4,223.0 L146.2,223.0 L147.0,223.0 L147.8,223.0 L148.6,223.0 L149.4,223.0 L150.2,223.0 L151.0,223.0 L151.8,223.0 L152.6,223.0 L153.4,223.0 L154.2,223.0 L155.0,223.0 L155.8,223.0 L156.6,223.0 L157.4,223.0 L158.2,223.0 L159.0,223.0 L159.8,223.0 L160.6,223.0 L161.1,223.0 L169.2,223.0 L177.4,223.0 L185.5,223.0 L193.7,223.0 L201.8,223.0 L210.0,223.0 L218.2,223.0 L226.3,223.0 L234.5,223.0 L242.6,223.0 L250.8,223.0 L258.9,223.0 L267.1,223.0 L275.2,223.0 L283.4,223.0 L291.5,223.0 L299.7,223.0 L307.8,223.0 L316.0,223.0 L324.1,223.0 L332.3,223.0 L340.4,223.0 L348.6,223.0 L356.7,223.0 L364.9,223.0 L373.0,223.0 L381.2,223.0 L389.3,223.0 L397.5,223.0 L405.6,223.0 L413.8,223.0 L421.9,223.0 L430.1,223.0 L438.2,223.0 L446.4,223.0 L454.5,223.0 L462.7,223.0 L470.8,223.0 L479.0,223.0 L487.2,223.0 L495.3,223.0 L503.5,223.0 L511.6,223.0 L519.8,223.0 L527.9,223.0 L536.1,223.0" stroke="#0000ff" stroke-width="1.30" fill="none" stroke-dasharray="3.2 2"/>
<path d="M47.0,223.0 L47.8,222.6 L48.6,222.2 L49.4,221.8 L50.2,221.5 L51.0,221.2 L51.8,221.1 L52.6,221.1 L53.4,221.1 L54.2,221.1 L55.0,221.1 L55.8,221.1 L56.6,221.1 L57.4,221.1 L58.2,221.1 L59.0,221.1 L59.8,221.1 L60.6,221.1 L61.4,221.1 L62.2,221.2 L63.0,221.2 L63.8,221.3 L64.6,221.4 L65.4,221.4 L66.2,221.5 L67.0,221.5 L67.8,221.6 L68.6,221.7 L69.4,221.7 L70.2,221.8 L71.0,221.9 L71.8,222.0 L72.6,222.1 L73.4,222.1 L74.2,222.2 L75.0,222.3 L75.8,222.3 L76.6,222.4 L77.4,222.4 L78.2,222.4 L79.0,222.5 L79.8,222.5 L80.6,222.5 L81.4,222.6 L82.2,222.6 L83.0,222.6 L83.8,222.7 L84.6,222.7 L85.4,222.7 L86.2,222.7 L87.0,222.8 L87.8,222.8 L88.6,222.8 L89.4,222.8 L90.2,222.8 L91.0,222.9 L91.8,222.9 L92.6,222.9 L93.4,222.9 L94.2,222.9 L95.0,222.9 L95.8,222.9 L96.6,223.0 L97.4,223.0 L98.2,223.0 L99.0,223.0 L99.8,223.0 L100.6,223.0 L101.4,223.0 L102.2,223.0 L103.0,223.0 L103.8,223.0 L104.6,223.0 L105.4,223.0 L106.2,223.0 L107.0,223.0 L107.8,223.0 L108.6,223.0 L109.4,223.0 L110.2,223.0 L111.0,223.0 L111.8,223.0 L112.6,223.0 L113.4,223.0 L114.2,223.0 L115.0,223.0 L115.8,223.0 L116.6,223.0 L117.4,223.0 L118.2,223.0 L119.0,223.0 L119.8,223.0 L120.6,223.0 L121.4,223.0 L122.2,223.0 L123.0,223.0 L123.8,223.0 L124.6,223.0 L125.4,223.0 L126.2,223.0 L127.0,223.0 L127.8,223.0 L128.6,223.0 L129.4,223.0 L130.2,223.0 L131.0,223.0 L131.8,223.0 L132.6,223.0 L133.4,223.0 L134.2,223.0 L135.0,223.0 L135.8,223.0 L136.6,223.0 L137.4,223.0 L138.2,223.0 L139.0,223.0 L139.8,223.0 L140.6,223.0 L141.4,223.0 L142.2,223.0 L143.0,223.0 L143.8,223.0 L144.6,223.0 L145.4,223.0 L146.2,223.0 L147.0,223.0 L147.8,223.0 L148.6,223.0 L149.4,223.0 L150.2,223.0 L151.0,223.0 L151.8,223.0 L152.6,223.0 L153.4,223.0 L154.2,223.0 L155.0,223.0 L155.8,223.0 L156.6,223.0 L157.4,223.0 L158.2,223.0 L159.0,223.0 L159.8,223.0 L160.6,223.0 L161.1,223.0 L169.2,223.0 L177.4,223.0 L185.5,223.0 L193.7,223.0 L201.8,223.0 L210.0,223.0 L218.2,223.0 L226.3,223.0 L234.5,223.0 L242.6,223.0 L250.8,223.0 L258.9,223.0 L267.1,223.0 L275.2,223.0 L283.4,223.0 L291.5,223.0 L299.7,223.0 L307.8,223.0 L316.0,223.0 L324.1,223.0 L332.3,223.0 L340.4,223.0 L348.6,223.0 L356.7,223.0 L364.9,223.0 L373.0,223.0 L381.2,223.0 L389.3,223.0 L397.5,223.0 L405.6,223.0 L413.8,223.0 L421.9,223.0 L430.1,223.0 L438.2,223.0 L446.4,223.0 L454.5,223.0 L462.7,223.0 L470.8,223.0 L479.0,223.0 L487.2,223.0 L495.3,223.0 L503.5,223.0 L511.6,223.0 L519.8,223.0 L527.9,223.0 L536.1,223.0" stroke="#22ee55" stroke-width="1.40" fill="none"/>
<path d="M47.0,223.0 L47.8,222.8 L48.6,222.7 L49.4,222.5 L50.2,222.5 L51.0,222.4 L51.8,222.4 L52.6,222.4 L53.4,222.3 L54.2,222.4 L55.0,222.4 L55.8,222.4 L56.6,222.4 L57.4,222.4 L58.2,222.4 L59.0,222.4 L59.8,222.4 L60.6,222.5 L61.4,222.5 L62.2,222.5 L63.0,222.5 L63.8,222.5 L64.6,222.5 L65.4,222.5 L66.2,222.5 L67.0,222.5 L67.8,222.5 L68.6,222.6 L69.4,222.6 L70.2,222.6 L71.0,222.6 L71.8,222.6 L72.6,222.6 L73.4,222.6 L74.2,222.6 L75.0,222.6 L75.8,222.6 L76.6,222.6 L77.4,222.6 L78.2,222.7 L79.0,222.7 L79.8,222.7 L80.6,222.7 L81.4,222.7 L82.2,222.7 L83.0,222.7 L83.8,222.7 L84.6,222.7 L85.4,222.7 L86.2,222.7 L87.0,222.7 L87.8,222.7 L88.6,222.7 L89.4,222.7 L90.2,222.7 L91.0,222.8 L91.8,222.8 L92.6,222.8 L93.4,222.8 L94.2,222.8 L95.0,222.8 L95.8,222.8 L96.6,222.8 L97.4,222.8 L98.2,222.8 L99.0,222.8 L99.8,222.8 L100.6,222.8 L101.4,222.8 L102.2,222.8 L103.0,222.8 L103.8,222.8 L104.6,222.8 L105.4,222.8 L106.2,222.8 L107.0,222.8 L107.8,222.8 L108.6,222.8 L109.4,222.9 L110.2,222.9 L111.0,222.9 L111.8,222.9 L112.6,222.9 L113.4,222.9 L114.2,222.9 L115.0,222.9 L115.8,222.9 L116.6,222.9 L117.4,222.9 L118.2,222.9 L119.0,222.9 L119.8,222.9 L120.6,222.9 L121.4,222.9 L122.2,222.9 L123.0,222.9 L123.8,222.9 L124.6,222.9 L125.4,222.9 L126.2,222.9 L127.0,222.9 L127.8,222.9 L128.6,222.9 L129.4,222.9 L130.2,222.9 L131.0,222.9 L131.8,222.9 L132.6,222.9 L133.4,222.9 L134.2,222.9 L135.0,222.9 L135.8,222.9 L136.6,222.9 L137.4,222.9 L138.2,222.9 L139.0,222.9 L139.8,222.9 L140.6,222.9 L141.4,222.9 L142.2,222.9 L143.0,222.9 L143.8,223.0 L144.6,223.0 L145.4,223.0 L146.2,223.0 L147.0,223.0 L147.8,223.0 L148.6,223.0 L149.4,223.0 L150.2,223.0 L151.0,223.0 L151.8,223.0 L152.6,223.0 L153.4,223.0 L154.2,223.0 L155.0,223.0 L155.8,223.0 L156.6,223.0 L157.4,223.0 L158.2,223.0 L159.0,223.0 L159.8,223.0 L160.6,223.0 L161.1,223.0 L169.2,223.0 L177.4,223.0 L185.5,223.0 L193.7,223.0 L201.8,223.0 L210.0,223.0 L218.2,223.0 L226.3,223.0 L234.5,223.0 L242.6,223.0 L250.8,223.0 L258.9,223.0 L267.1,223.0 L275.2,223.0 L283.4,223.0 L291.5,223.0 L299.7,223.0 L307.8,223.0 L316.0,223.0 L324.1,223.0 L332.3,223.0 L340.4,223.0 L348.6,223.0 L356.7,223.0 L364.9,223.0 L373.0,223.0 L381.2,223.0 L389.3,223.0 L397.5,223.0 L405.6,223.0 L413.8,223.0 L421.9,223.0 L430.1,223.0 L438.2,223.0 L446.4,223.0 L454.5,223.0 L462.7,223.0 L470.8,223.0 L479.0,223.0 L487.2,223.0 L495.3,223.0 L503.5,223.0 L511.6,223.0 L519.8,223.0 L527.9,223.0 L536.1,223.0" stroke="#ff0000" stroke-width="1.25" fill="none" stroke-dasharray="3.2 0.8 1 0.8"/>
<path d="M47.0,198.8 L47.8,199.4 L48.6,200.0 L49.4,200.6 L50.2,201.2 L51.0,201.7 L51.8,202.3 L52.6,202.8 L53.4,203.3 L54.2,203.8 L55.0,204.3 L55.8,204.8 L56.6,205.3 L57.4,205.7 L58.2,206.1 L59.0,206.6 L59.8,207.0 L60.6,207.4 L61.4,207.7 L62.2,208.1 L63.0,208.5 L63.8,208.8 L64.6,209.2 L65.4,209.5 L66.2,209.8 L67.0,210.1 L67.8,210.4 L68.6,210.7 L69.4,211.0 L70.2,211.3 L71.0,211.6 L71.8,211.8 L72.6,212.1 L73.4,212.3 L74.2,212.6 L75.0,212.8 L75.8,213.0 L76.6,213.3 L77.4,213.5 L78.2,213.7 L79.0,213.9 L79.8,214.1 L80.6,214.3 L81.4,214.4 L82.2,214.6 L83.0,214.8 L83.8,215.0 L84.6,215.1 L85.4,215.3 L86.2,215.4 L87.0,215.6 L87.8,215.7 L88.6,215.9 L89.4,216.0 L90.2,216.1 L91.0,216.3 L91.8,216.4 L92.6,216.5 L93.4,216.6 L94.2,216.8 L95.0,216.9 L95.8,217.0 L96.6,217.1 L97.4,217.2 L98.2,217.3 L99.0,217.4 L99.8,217.5 L100.6,217.6 L101.4,217.6 L102.2,217.7 L103.0,217.8 L103.8,217.9 L104.6,218.0 L105.4,218.1 L106.2,218.1 L107.0,218.2 L107.8,218.3 L108.6,218.3 L109.4,218.4 L110.2,218.5 L111.0,218.5 L111.8,218.6 L112.6,218.6 L113.4,218.7 L114.2,218.8 L115.0,218.8 L115.8,218.9 L116.6,218.9 L117.4,219.0 L118.2,219.0 L119.0,219.1 L119.8,219.1 L120.6,219.1 L121.4,219.2 L122.2,219.2 L123.0,219.3 L123.8,219.3 L124.6,219.3 L125.4,219.4 L126.2,219.4 L127.0,219.4 L127.8,219.5 L128.6,219.5 L129.4,219.5 L130.2,219.6 L131.0,219.6 L131.8,219.6 L132.6,219.7 L133.4,219.7 L134.2,219.7 L135.0,219.7 L135.8,219.8 L136.6,219.8 L137.4,219.8 L138.2,219.8 L139.0,219.9 L139.8,219.9 L140.6,219.9 L141.4,219.9 L142.2,219.9 L143.0,220.0 L143.8,220.0 L144.6,220.0 L145.4,220.0 L146.2,220.0 L147.0,220.0 L147.8,220.1 L148.6,220.1 L149.4,220.1 L150.2,220.1 L151.0,220.1 L151.8,220.1 L152.6,220.2 L153.4,220.2 L154.2,220.2 L155.0,220.2 L155.8,220.2 L156.6,220.2 L157.4,220.2 L158.2,220.2 L159.0,220.2 L159.8,220.3 L160.6,220.3 L161.1,220.3 L169.2,220.4 L177.4,220.4 L185.5,220.5 L193.7,220.5 L201.8,220.5 L210.0,220.5 L218.2,220.6 L226.3,220.6 L234.5,220.6 L242.6,220.6 L250.8,220.6 L258.9,220.6 L267.1,220.6 L275.2,220.6 L283.4,220.6 L291.5,220.6 L299.7,220.6 L307.8,220.6 L316.0,220.6 L324.1,220.6 L332.3,220.6 L340.4,220.6 L348.6,220.6 L356.7,220.6 L364.9,220.6 L373.0,220.6 L381.2,220.6 L389.3,220.6 L397.5,220.6 L405.6,220.6 L413.8,220.6 L421.9,220.6 L430.1,220.6 L438.2,220.6 L446.4,220.6 L454.5,220.6 L462.7,220.6 L470.8,220.6 L479.0,220.6 L487.2,220.6 L495.3,220.6 L503.5,220.6 L511.6,220.6 L519.8,220.6 L527.9,220.6 L536.1,220.6" stroke="#ff00ff" stroke-width="1.25" fill="none"/>
<path d="M47.0,247.3 L47.8,246.7 L48.6,246.0 L49.4,245.4 L50.2,244.9 L51.0,244.3 L51.8,243.8 L52.6,243.2 L53.4,242.7 L54.2,242.2 L55.0,241.7 L55.8,241.2 L56.6,240.8 L57.4,240.3 L58.2,239.9 L59.0,239.5 L59.8,239.1 L60.6,238.7 L61.4,238.3 L62.2,237.9 L63.0,237.6 L63.8,237.2 L64.6,236.9 L65.4,236.5 L66.2,236.2 L67.0,235.9 L67.8,235.6 L68.6,235.3 L69.4,235.0 L70.2,234.7 L71.0,234.5 L71.8,234.2 L72.6,234.0 L73.4,233.7 L74.2,233.5 L75.0,233.2 L75.8,233.0 L76.6,232.8 L77.4,232.6 L78.2,232.4 L79.0,232.2 L79.8,232.0 L80.6,231.8 L81.4,231.6 L82.2,231.4 L83.0,231.3 L83.8,231.1 L84.6,230.9 L85.4,230.8 L86.2,230.6 L87.0,230.5 L87.8,230.3 L88.6,230.2 L89.4,230.0 L90.2,229.9 L91.0,229.8 L91.8,229.7 L92.6,229.5 L93.4,229.4 L94.2,229.3 L95.0,229.2 L95.8,229.1 L96.6,229.0 L97.4,228.9 L98.2,228.8 L99.0,228.7 L99.8,228.6 L100.6,228.5 L101.4,228.4 L102.2,228.3 L103.0,228.2 L103.8,228.2 L104.6,228.1 L105.4,228.0 L106.2,227.9 L107.0,227.9 L107.8,227.8 L108.6,227.7 L109.4,227.6 L110.2,227.6 L111.0,227.5 L111.8,227.5 L112.6,227.4 L113.4,227.3 L114.2,227.3 L115.0,227.2 L115.8,227.2 L116.6,227.1 L117.4,227.1 L118.2,227.0 L119.0,227.0 L119.8,226.9 L120.6,226.9 L121.4,226.9 L122.2,226.8 L123.0,226.8 L123.8,226.7 L124.6,226.7 L125.4,226.7 L126.2,226.6 L127.0,226.6 L127.8,226.6 L128.6,226.5 L129.4,226.5 L130.2,226.5 L131.0,226.4 L131.8,226.4 L132.6,226.4 L133.4,226.4 L134.2,226.3 L135.0,226.3 L135.8,226.3 L136.6,226.3 L137.4,226.2 L138.2,226.2 L139.0,226.2 L139.8,226.2 L140.6,226.1 L141.4,226.1 L142.2,226.1 L143.0,226.1 L143.8,226.1 L144.6,226.1 L145.4,226.0 L146.2,226.0 L147.0,226.0 L147.8,226.0 L148.6,226.0 L149.4,226.0 L150.2,225.9 L151.0,225.9 L151.8,225.9 L152.6,225.9 L153.4,225.9 L154.2,225.9 L155.0,225.9 L155.8,225.8 L156.6,225.8 L157.4,225.8 L158.2,225.8 L159.0,225.8 L159.8,225.8 L160.6,225.8 L161.1,225.8 L169.2,225.7 L177.4,225.6 L185.5,225.6 L193.7,225.6 L201.8,225.5 L210.0,225.5 L218.2,225.5 L226.3,225.5 L234.5,225.5 L242.6,225.5 L250.8,225.5 L258.9,225.5 L267.1,225.5 L275.2,225.5 L283.4,225.5 L291.5,225.5 L299.7,225.5 L307.8,225.5 L316.0,225.5 L324.1,225.5 L332.3,225.5 L340.4,225.5 L348.6,225.5 L356.7,225.5 L364.9,225.5 L373.0,225.5 L381.2,225.5 L389.3,225.5 L397.5,225.5 L405.6,225.5 L413.8,225.5 L421.9,225.5 L430.1,225.5 L438.2,225.5 L446.4,225.5 L454.5,225.5 L462.7,225.5 L470.8,225.5 L479.0,225.5 L487.2,225.5 L495.3,225.5 L503.5,225.5 L511.6,225.5 L519.8,225.5 L527.9,225.5 L536.1,225.5" stroke="#ff00ff" stroke-width="1.25" fill="none"/>
</g>
<rect x="170.95" y="202.81" width="210.70" height="41.62" fill="#fff" stroke="none"/>
<rect x="170.95" y="202.81" width="210.70" height="41.62" fill="none" stroke="#1a1a1a" stroke-width="1.30"/>
<path d="M170.95,244.43 v-2.10 M170.95,202.81 v2.10 M205.07,244.43 v-2.10 M205.07,202.81 v2.10 M239.19,244.43 v-2.10 M239.19,202.81 v2.10 M273.31,244.43 v-2.10 M273.31,202.81 v2.10 M307.43,244.43 v-2.10 M307.43,202.81 v2.10 M341.55,244.43 v-2.10 M341.55,202.81 v2.10 M375.67,244.43 v-2.10 M375.67,202.81 v2.10 M170.95,244.43 h2.10 M381.65,244.43 h-2.10 M170.95,223.62 h2.10 M381.65,223.62 h-2.10 M170.95,202.81 h2.10 M381.65,202.81 h-2.10" stroke="#1a1a1a" stroke-width="0.8" fill="none"/>
<clipPath id="ic2"><rect x="170.95" y="201.81" width="210.70" height="43.62"/></clipPath>
<g clip-path="url(#ic2)">
<path d="M170.9,223.6 L171.8,223.5 L172.5,223.4 L173.3,223.2 L174.1,223.1 L174.9,223.0 L175.8,222.9 L176.5,222.7 L177.3,222.6 L178.1,222.5 L178.9,222.4 L179.8,222.3 L180.5,222.2 L181.3,222.2 L182.1,222.1 L182.9,222.0 L183.8,221.9 L184.5,221.8 L185.3,221.8 L186.1,221.7 L186.9,221.6 L187.8,221.6 L188.5,221.5 L189.3,221.4 L190.1,221.4 L190.9,221.3 L191.8,221.2 L192.5,221.2 L193.3,221.1 L194.1,221.1 L194.9,221.0 L195.8,221.0 L196.5,220.9 L197.3,220.9 L198.1,220.9 L198.9,220.9 L199.8,220.9 L200.5,220.9 L201.3,221.0 L202.1,221.0 L202.9,221.0 L203.8,221.1 L204.5,221.1 L205.3,221.2 L206.1,221.2 L206.9,221.2 L207.8,221.3 L208.5,221.3 L209.3,221.4 L210.1,221.5 L210.9,221.5 L211.8,221.6 L212.5,221.7 L213.3,221.8 L214.1,221.9 L214.9,222.0 L215.8,222.1 L216.6,222.2 L217.3,222.3 L218.2,222.4 L218.9,222.4 L219.8,222.5 L220.5,222.6 L221.3,222.7 L222.1,222.7 L222.9,222.8 L223.8,222.8 L224.6,222.9 L225.3,223.0 L226.1,223.0 L226.9,223.1 L227.8,223.1 L228.5,223.2 L229.3,223.2 L230.1,223.3 L230.9,223.3 L231.8,223.4 L232.6,223.4 L233.3,223.5 L234.1,223.5 L234.9,223.6 L235.8,223.6 L236.6,223.6 L237.3,223.7 L238.1,223.7 L238.9,223.8 L239.8,223.8 L240.6,223.8 L241.3,223.9 L242.2,223.9 L242.9,223.9 L243.8,224.0 L244.6,224.0 L245.3,224.0 L246.1,224.0 L246.9,224.0 L247.8,224.0 L248.6,224.0 L249.3,224.0 L250.1,224.0 L250.9,224.0 L251.8,224.0 L252.5,224.0 L253.3,224.0 L254.1,224.0 L254.9,224.0 L255.8,224.0 L256.6,224.0 L257.4,224.0 L258.1,224.0 L258.9,224.0 L259.8,224.0 L260.6,224.0 L261.4,224.0 L262.1,224.0 L262.9,224.0 L263.8,224.0 L264.6,224.0 L265.4,224.0 L266.1,224.0 L266.9,224.0 L267.8,224.0 L268.6,224.0 L269.4,224.0 L270.1,224.0 L270.9,224.0 L271.8,224.0 L272.6,224.0 L273.4,224.0 L274.1,224.0 L274.9,224.0 L275.8,224.0 L276.6,224.0 L277.4,224.0 L278.1,224.0 L278.9,224.0 L279.8,224.0 L280.6,224.0 L281.4,224.0 L282.1,224.0 L282.9,224.0 L283.8,224.0 L284.6,224.0 L285.4,224.0 L286.1,224.0 L286.9,223.9 L287.8,223.9 L288.6,223.9 L289.4,223.9 L290.1,223.9 L290.9,223.9 L291.8,223.9 L292.6,223.9 L293.4,223.9 L294.1,223.9 L294.9,223.9 L295.8,223.9 L296.6,223.8 L297.4,223.8 L298.1,223.8 L298.9,223.8 L299.8,223.8 L300.5,223.8 L301.4,223.8 L302.1,223.8 L302.9,223.8 L303.8,223.8 L304.5,223.8 L305.4,223.8 L306.1,223.8 L307.0,223.7 L307.8,223.7 L308.5,223.7 L309.4,223.7 L310.1,223.7 L310.9,223.7 L311.8,223.7 L312.6,223.7 L313.4,223.7 L314.1,223.7 L314.9,223.7 L315.8,223.7 L316.6,223.7 L317.4,223.6 L318.1,223.6 L319.0,223.6 L319.8,223.6 L320.5,223.6 L321.4,223.6 L322.1,223.6 L322.9,223.6 L323.8,223.6 L324.6,223.6 L325.4,223.6 L326.1,223.6 L327.0,223.6 L327.8,223.6 L328.5,223.6 L329.4,223.6 L330.1,223.6 L331.0,223.6 L331.8,223.6 L332.6,223.6 L333.4,223.6 L334.1,223.6 L334.9,223.6 L335.8,223.6 L336.6,223.6 L337.4,223.6 L338.1,223.6 L339.0,223.6 L339.8,223.6 L340.5,223.6 L341.4,223.6 L342.1,223.6 L342.9,223.6 L343.8,223.6 L344.6,223.6 L345.4,223.6 L346.1,223.6 L346.9,223.6 L347.8,223.6 L348.5,223.6 L349.4,223.6 L350.1,223.6 L351.0,223.6 L351.8,223.6 L352.6,223.6 L353.4,223.6 L354.1,223.6 L354.9,223.6 L355.8,223.6 L356.6,223.6 L357.4,223.6 L358.1,223.6 L359.0,223.6 L359.8,223.6 L360.5,223.6 L361.4,223.6 L362.1,223.6 L362.9,223.6 L363.8,223.6 L364.6,223.6 L365.4,223.6 L366.1,223.6 L366.9,223.6 L367.8,223.6 L368.5,223.6 L369.4,223.6 L370.1,223.6 L371.0,223.6 L371.8,223.6 L372.6,223.6 L373.4,223.6 L374.1,223.6 L374.9,223.6 L375.8,223.6 L376.6,223.6 L377.4,223.6 L378.1,223.6 L379.0,223.6 L379.8,223.6 L380.5,223.6 L381.4,223.6 L381.6,223.6" stroke="#0000ff" stroke-width="1.30" fill="none" stroke-dasharray="3.2 2"/>
<path d="M170.9,223.6 L171.8,223.4 L172.5,223.2 L173.3,223.1 L174.1,222.9 L174.9,222.8 L175.8,222.6 L176.5,222.5 L177.3,222.4 L178.1,222.2 L178.9,222.1 L179.8,222.0 L180.5,222.0 L181.3,222.0 L182.1,222.0 L182.9,222.0 L183.8,222.0 L184.5,222.0 L185.3,222.0 L186.1,222.0 L186.9,222.0 L187.8,222.0 L188.5,222.0 L189.3,222.0 L190.1,222.0 L190.9,222.0 L191.8,222.0 L192.5,222.0 L193.3,222.0 L194.1,222.0 L194.9,222.0 L195.8,222.0 L196.5,222.0 L197.3,222.0 L198.1,222.0 L198.9,222.0 L199.8,222.0 L200.5,222.0 L201.3,222.0 L202.1,222.0 L202.9,222.0 L203.8,222.1 L204.5,222.1 L205.3,222.1 L206.1,222.1 L206.9,222.2 L207.8,222.2 L208.5,222.2 L209.3,222.2 L210.1,222.3 L210.9,222.3 L211.8,222.3 L212.5,222.3 L213.3,222.4 L214.1,222.4 L214.9,222.4 L215.8,222.4 L216.6,222.5 L217.3,222.5 L218.2,222.5 L218.9,222.6 L219.8,222.6 L220.5,222.6 L221.3,222.7 L222.1,222.7 L222.9,222.7 L223.8,222.8 L224.6,222.8 L225.3,222.8 L226.1,222.9 L226.9,222.9 L227.8,222.9 L228.5,222.9 L229.3,223.0 L230.1,223.0 L230.9,223.0 L231.8,223.0 L232.6,223.0 L233.3,223.1 L234.1,223.1 L234.9,223.1 L235.8,223.1 L236.6,223.1 L237.3,223.1 L238.1,223.2 L238.9,223.2 L239.8,223.2 L240.6,223.2 L241.3,223.2 L242.2,223.2 L242.9,223.2 L243.8,223.3 L244.6,223.3 L245.3,223.3 L246.1,223.3 L246.9,223.3 L247.8,223.3 L248.6,223.3 L249.3,223.3 L250.1,223.3 L250.9,223.4 L251.8,223.4 L252.5,223.4 L253.3,223.4 L254.1,223.4 L254.9,223.4 L255.8,223.4 L256.6,223.4 L257.4,223.4 L258.1,223.4 L258.9,223.4 L259.8,223.4 L260.6,223.5 L261.4,223.5 L262.1,223.5 L262.9,223.5 L263.8,223.5 L264.6,223.5 L265.4,223.5 L266.1,223.5 L266.9,223.5 L267.8,223.5 L268.6,223.5 L269.4,223.5 L270.1,223.5 L270.9,223.5 L271.8,223.5 L272.6,223.5 L273.4,223.6 L274.1,223.6 L274.9,223.6 L275.8,223.6 L276.6,223.6 L277.4,223.6 L278.1,223.6 L278.9,223.6 L279.8,223.6 L280.6,223.6 L281.4,223.6 L282.1,223.6 L282.9,223.6 L283.8,223.6 L284.6,223.6 L285.4,223.6 L286.1,223.6 L286.9,223.6 L287.8,223.6 L288.6,223.6 L289.4,223.6 L290.1,223.6 L290.9,223.6 L291.8,223.6 L292.6,223.6 L293.4,223.6 L294.1,223.6 L294.9,223.6 L295.8,223.6 L296.6,223.6 L297.4,223.6 L298.1,223.6 L298.9,223.6 L299.8,223.6 L300.5,223.6 L301.4,223.6 L302.1,223.6 L302.9,223.6 L303.8,223.6 L304.5,223.6 L305.4,223.6 L306.1,223.6 L307.0,223.6 L307.8,223.6 L308.5,223.6 L309.4,223.6 L310.1,223.6 L310.9,223.6 L311.8,223.6 L312.6,223.6 L313.4,223.6 L314.1,223.6 L314.9,223.6 L315.8,223.6 L316.6,223.6 L317.4,223.6 L318.1,223.6 L319.0,223.6 L319.8,223.6 L320.5,223.6 L321.4,223.6 L322.1,223.6 L322.9,223.6 L323.8,223.6 L324.6,223.6 L325.4,223.6 L326.1,223.6 L327.0,223.6 L327.8,223.6 L328.5,223.6 L329.4,223.6 L330.1,223.6 L331.0,223.6 L331.8,223.6 L332.6,223.6 L333.4,223.6 L334.1,223.6 L334.9,223.6 L335.8,223.6 L336.6,223.6 L337.4,223.6 L338.1,223.6 L339.0,223.6 L339.8,223.6 L340.5,223.6 L341.4,223.6 L342.1,223.6 L342.9,223.6 L343.8,223.6 L344.6,223.6 L345.4,223.6 L346.1,223.6 L346.9,223.6 L347.8,223.6 L348.5,223.6 L349.4,223.6 L350.1,223.6 L351.0,223.6 L351.8,223.6 L352.6,223.6 L353.4,223.6 L354.1,223.6 L354.9,223.6 L355.8,223.6 L356.6,223.6 L357.4,223.6 L358.1,223.6 L359.0,223.6 L359.8,223.6 L360.5,223.6 L361.4,223.6 L362.1,223.6 L362.9,223.6 L363.8,223.6 L364.6,223.6 L365.4,223.6 L366.1,223.6 L366.9,223.6 L367.8,223.6 L368.5,223.6 L369.4,223.6 L370.1,223.6 L371.0,223.6 L371.8,223.6 L372.6,223.6 L373.4,223.6 L374.1,223.6 L374.9,223.6 L375.8,223.6 L376.6,223.6 L377.4,223.6 L378.1,223.6 L379.0,223.6 L379.8,223.6 L380.5,223.6 L381.4,223.6 L381.6,223.6" stroke="#22ee55" stroke-width="1.40" fill="none"/>
<path d="M170.9,223.6 L171.8,223.5 L172.5,223.5 L173.3,223.4 L174.1,223.3 L174.9,223.3 L175.8,223.2 L176.5,223.2 L177.3,223.2 L178.1,223.1 L178.9,223.1 L179.8,223.1 L180.5,223.1 L181.3,223.1 L182.1,223.1 L182.9,223.0 L183.8,223.0 L184.5,223.0 L185.3,223.0 L186.1,223.0 L186.9,223.1 L187.8,223.1 L188.5,223.1 L189.3,223.1 L190.1,223.1 L190.9,223.1 L191.8,223.1 L192.5,223.1 L193.3,223.1 L194.1,223.1 L194.9,223.1 L195.8,223.1 L196.5,223.1 L197.3,223.1 L198.1,223.1 L198.9,223.1 L199.8,223.1 L200.5,223.1 L201.3,223.1 L202.1,223.1 L202.9,223.2 L203.8,223.2 L204.5,223.2 L205.3,223.2 L206.1,223.2 L206.9,223.2 L207.8,223.2 L208.5,223.2 L209.3,223.2 L210.1,223.2 L210.9,223.2 L211.8,223.2 L212.5,223.2 L213.3,223.2 L214.1,223.2 L214.9,223.2 L215.8,223.2 L216.6,223.2 L217.3,223.2 L218.2,223.2 L218.9,223.2 L219.8,223.2 L220.5,223.2 L221.3,223.2 L222.1,223.2 L222.9,223.2 L223.8,223.3 L224.6,223.3 L225.3,223.3 L226.1,223.3 L226.9,223.3 L227.8,223.3 L228.5,223.3 L229.3,223.3 L230.1,223.3 L230.9,223.3 L231.8,223.3 L232.6,223.3 L233.3,223.3 L234.1,223.3 L234.9,223.3 L235.8,223.3 L236.6,223.3 L237.3,223.3 L238.1,223.3 L238.9,223.3 L239.8,223.3 L240.6,223.3 L241.3,223.3 L242.2,223.3 L242.9,223.3 L243.8,223.3 L244.6,223.3 L245.3,223.3 L246.1,223.3 L246.9,223.3 L247.8,223.3 L248.6,223.3 L249.3,223.3 L250.1,223.3 L250.9,223.4 L251.8,223.4 L252.5,223.4 L253.3,223.4 L254.1,223.4 L254.9,223.4 L255.8,223.4 L256.6,223.4 L257.4,223.4 L258.1,223.4 L258.9,223.4 L259.8,223.4 L260.6,223.4 L261.4,223.4 L262.1,223.4 L262.9,223.4 L263.8,223.4 L264.6,223.4 L265.4,223.4 L266.1,223.4 L266.9,223.4 L267.8,223.4 L268.6,223.4 L269.4,223.4 L270.1,223.4 L270.9,223.4 L271.8,223.4 L272.6,223.4 L273.4,223.4 L274.1,223.4 L274.9,223.4 L275.8,223.4 L276.6,223.4 L277.4,223.4 L278.1,223.4 L278.9,223.4 L279.8,223.4 L280.6,223.4 L281.4,223.4 L282.1,223.4 L282.9,223.4 L283.8,223.4 L284.6,223.4 L285.4,223.4 L286.1,223.4 L286.9,223.4 L287.8,223.4 L288.6,223.4 L289.4,223.4 L290.1,223.5 L290.9,223.5 L291.8,223.5 L292.6,223.5 L293.4,223.5 L294.1,223.5 L294.9,223.5 L295.8,223.5 L296.6,223.5 L297.4,223.5 L298.1,223.5 L298.9,223.5 L299.8,223.5 L300.5,223.5 L301.4,223.5 L302.1,223.5 L302.9,223.5 L303.8,223.5 L304.5,223.5 L305.4,223.5 L306.1,223.5 L307.0,223.5 L307.8,223.5 L308.5,223.5 L309.4,223.5 L310.1,223.5 L310.9,223.5 L311.8,223.5 L312.6,223.5 L313.4,223.5 L314.1,223.5 L314.9,223.5 L315.8,223.5 L316.6,223.5 L317.4,223.5 L318.1,223.5 L319.0,223.5 L319.8,223.5 L320.5,223.5 L321.4,223.5 L322.1,223.5 L322.9,223.5 L323.8,223.5 L324.6,223.5 L325.4,223.5 L326.1,223.5 L327.0,223.5 L327.8,223.5 L328.5,223.5 L329.4,223.5 L330.1,223.5 L331.0,223.5 L331.8,223.5 L332.6,223.5 L333.4,223.5 L334.1,223.5 L334.9,223.5 L335.8,223.5 L336.6,223.5 L337.4,223.5 L338.1,223.5 L339.0,223.5 L339.8,223.5 L340.5,223.5 L341.4,223.5 L342.1,223.5 L342.9,223.5 L343.8,223.5 L344.6,223.5 L345.4,223.5 L346.1,223.5 L346.9,223.5 L347.8,223.5 L348.5,223.5 L349.4,223.5 L350.1,223.5 L351.0,223.5 L351.8,223.5 L352.6,223.5 L353.4,223.5 L354.1,223.5 L354.9,223.5 L355.8,223.5 L356.6,223.5 L357.4,223.5 L358.1,223.5 L359.0,223.5 L359.8,223.5 L360.5,223.5 L361.4,223.5 L362.1,223.5 L362.9,223.5 L363.8,223.5 L364.6,223.5 L365.4,223.5 L366.1,223.6 L366.9,223.6 L367.8,223.6 L368.5,223.6 L369.4,223.6 L370.1,223.6 L371.0,223.6 L371.8,223.6 L372.6,223.6 L373.4,223.6 L374.1,223.6 L374.9,223.6 L375.8,223.6 L376.6,223.6 L377.4,223.6 L378.1,223.6 L379.0,223.6 L379.8,223.6 L380.5,223.6 L381.4,223.6 L381.6,223.6" stroke="#ff0000" stroke-width="1.25" fill="none" stroke-dasharray="3.2 0.8 1 0.8"/>
<path d="M170.9,202.8 L171.8,203.1 L172.5,203.3 L173.3,203.6 L174.1,203.8 L174.9,204.1 L175.8,204.3 L176.5,204.6 L177.3,204.8 L178.1,205.0 L178.9,205.3 L179.8,205.5 L180.5,205.7 L181.3,205.9 L182.1,206.2 L182.9,206.4 L183.8,206.6 L184.5,206.8 L185.3,207.0 L186.1,207.2 L186.9,207.4 L187.8,207.6 L188.5,207.8 L189.3,208.0 L190.1,208.2 L190.9,208.4 L191.8,208.5 L192.5,208.7 L193.3,208.9 L194.1,209.1 L194.9,209.3 L195.8,209.4 L196.5,209.6 L197.3,209.8 L198.1,209.9 L198.9,210.1 L199.8,210.3 L200.5,210.4 L201.3,210.6 L202.1,210.7 L202.9,210.9 L203.8,211.0 L204.5,211.2 L205.3,211.3 L206.1,211.5 L206.9,211.6 L207.8,211.7 L208.5,211.9 L209.3,212.0 L210.1,212.1 L210.9,212.3 L211.8,212.4 L212.5,212.5 L213.3,212.7 L214.1,212.8 L214.9,212.9 L215.8,213.0 L216.6,213.1 L217.3,213.3 L218.2,213.4 L218.9,213.5 L219.8,213.6 L220.5,213.7 L221.3,213.8 L222.1,213.9 L222.9,214.0 L223.8,214.1 L224.6,214.2 L225.3,214.3 L226.1,214.4 L226.9,214.5 L227.8,214.6 L228.5,214.7 L229.3,214.8 L230.1,214.9 L230.9,215.0 L231.8,215.1 L232.6,215.2 L233.3,215.3 L234.1,215.4 L234.9,215.5 L235.8,215.5 L236.6,215.6 L237.3,215.7 L238.1,215.8 L238.9,215.9 L239.8,216.0 L240.6,216.0 L241.3,216.1 L242.2,216.2 L242.9,216.3 L243.8,216.3 L244.6,216.4 L245.3,216.5 L246.1,216.5 L246.9,216.6 L247.8,216.7 L248.6,216.8 L249.3,216.8 L250.1,216.9 L250.9,217.0 L251.8,217.0 L252.5,217.1 L253.3,217.1 L254.1,217.2 L254.9,217.3 L255.8,217.3 L256.6,217.4 L257.4,217.4 L258.1,217.5 L258.9,217.6 L259.8,217.6 L260.6,217.7 L261.4,217.7 L262.1,217.8 L262.9,217.8 L263.8,217.9 L264.6,217.9 L265.4,218.0 L266.1,218.0 L266.9,218.1 L267.8,218.1 L268.6,218.2 L269.4,218.2 L270.1,218.3 L270.9,218.3 L271.8,218.4 L272.6,218.4 L273.4,218.4 L274.1,218.5 L274.9,218.5 L275.8,218.6 L276.6,218.6 L277.4,218.7 L278.1,218.7 L278.9,218.7 L279.8,218.8 L280.6,218.8 L281.4,218.9 L282.1,218.9 L282.9,218.9 L283.8,219.0 L284.6,219.0 L285.4,219.0 L286.1,219.1 L286.9,219.1 L287.8,219.1 L288.6,219.2 L289.4,219.2 L290.1,219.2 L290.9,219.3 L291.8,219.3 L292.6,219.3 L293.4,219.4 L294.1,219.4 L294.9,219.4 L295.8,219.5 L296.6,219.5 L297.4,219.5 L298.1,219.5 L298.9,219.6 L299.8,219.6 L300.5,219.6 L301.4,219.6 L302.1,219.7 L302.9,219.7 L303.8,219.7 L304.5,219.8 L305.4,219.8 L306.1,219.8 L307.0,219.8 L307.8,219.8 L308.5,219.9 L309.4,219.9 L310.1,219.9 L310.9,219.9 L311.8,220.0 L312.6,220.0 L313.4,220.0 L314.1,220.0 L314.9,220.1 L315.8,220.1 L316.6,220.1 L317.4,220.1 L318.1,220.1 L319.0,220.2 L319.8,220.2 L320.5,220.2 L321.4,220.2 L322.1,220.2 L322.9,220.2 L323.8,220.3 L324.6,220.3 L325.4,220.3 L326.1,220.3 L327.0,220.3 L327.8,220.4 L328.5,220.4 L329.4,220.4 L330.1,220.4 L331.0,220.4 L331.8,220.4 L332.6,220.4 L333.4,220.5 L334.1,220.5 L334.9,220.5 L335.8,220.5 L336.6,220.5 L337.4,220.5 L338.1,220.5 L339.0,220.6 L339.8,220.6 L340.5,220.6 L341.4,220.6 L342.1,220.6 L342.9,220.6 L343.8,220.6 L344.6,220.7 L345.4,220.7 L346.1,220.7 L346.9,220.7 L347.8,220.7 L348.5,220.7 L349.4,220.7 L350.1,220.7 L351.0,220.7 L351.8,220.8 L352.6,220.8 L353.4,220.8 L354.1,220.8 L354.9,220.8 L355.8,220.8 L356.6,220.8 L357.4,220.8 L358.1,220.8 L359.0,220.9 L359.8,220.9 L360.5,220.9 L361.4,220.9 L362.1,220.9 L362.9,220.9 L363.8,220.9 L364.6,220.9 L365.4,220.9 L366.1,220.9 L366.9,220.9 L367.8,221.0 L368.5,221.0 L369.4,221.0 L370.1,221.0 L371.0,221.0 L371.8,221.0 L372.6,221.0 L373.4,221.0 L374.1,221.0 L374.9,221.0 L375.8,221.0 L376.6,221.0 L377.4,221.0 L378.1,221.0 L379.0,221.1 L379.8,221.1 L380.5,221.1 L381.4,221.1 L381.6,221.1" stroke="#ff00ff" stroke-width="1.25" fill="none"/>
<path d="M170.9,244.4 L171.8,244.2 L172.5,243.9 L173.3,243.7 L174.1,243.4 L174.9,243.2 L175.8,242.9 L176.5,242.7 L177.3,242.4 L178.1,242.2 L178.9,242.0 L179.8,241.7 L180.5,241.5 L181.3,241.3 L182.1,241.1 L182.9,240.9 L183.8,240.7 L184.5,240.4 L185.3,240.2 L186.1,240.0 L186.9,239.8 L187.8,239.6 L188.5,239.4 L189.3,239.3 L190.1,239.1 L190.9,238.9 L191.8,238.7 L192.5,238.5 L193.3,238.3 L194.1,238.2 L194.9,238.0 L195.8,237.8 L196.5,237.6 L197.3,237.5 L198.1,237.3 L198.9,237.1 L199.8,237.0 L200.5,236.8 L201.3,236.7 L202.1,236.5 L202.9,236.4 L203.8,236.2 L204.5,236.1 L205.3,235.9 L206.1,235.8 L206.9,235.6 L207.8,235.5 L208.5,235.4 L209.3,235.2 L210.1,235.1 L210.9,235.0 L211.8,234.8 L212.5,234.7 L213.3,234.6 L214.1,234.5 L214.9,234.3 L215.8,234.2 L216.6,234.1 L217.3,234.0 L218.2,233.9 L218.9,233.8 L219.8,233.6 L220.5,233.5 L221.3,233.4 L222.1,233.3 L222.9,233.2 L223.8,233.1 L224.6,233.0 L225.3,232.9 L226.1,232.8 L226.9,232.7 L227.8,232.6 L228.5,232.5 L229.3,232.4 L230.1,232.3 L230.9,232.2 L231.8,232.1 L232.6,232.0 L233.3,232.0 L234.1,231.9 L234.9,231.8 L235.8,231.7 L236.6,231.6 L237.3,231.5 L238.1,231.4 L238.9,231.4 L239.8,231.3 L240.6,231.2 L241.3,231.1 L242.2,231.1 L242.9,231.0 L243.8,230.9 L244.6,230.8 L245.3,230.8 L246.1,230.7 L246.9,230.6 L247.8,230.6 L248.6,230.5 L249.3,230.4 L250.1,230.4 L250.9,230.3 L251.8,230.2 L252.5,230.2 L253.3,230.1 L254.1,230.0 L254.9,230.0 L255.8,229.9 L256.6,229.9 L257.4,229.8 L258.1,229.7 L258.9,229.7 L259.8,229.6 L260.6,229.6 L261.4,229.5 L262.1,229.5 L262.9,229.4 L263.8,229.4 L264.6,229.3 L265.4,229.3 L266.1,229.2 L266.9,229.2 L267.8,229.1 L268.6,229.1 L269.4,229.0 L270.1,229.0 L270.9,228.9 L271.8,228.9 L272.6,228.8 L273.4,228.8 L274.1,228.8 L274.9,228.7 L275.8,228.7 L276.6,228.6 L277.4,228.6 L278.1,228.5 L278.9,228.5 L279.8,228.5 L280.6,228.4 L281.4,228.4 L282.1,228.4 L282.9,228.3 L283.8,228.3 L284.6,228.2 L285.4,228.2 L286.1,228.2 L286.9,228.1 L287.8,228.1 L288.6,228.1 L289.4,228.0 L290.1,228.0 L290.9,228.0 L291.8,227.9 L292.6,227.9 L293.4,227.9 L294.1,227.8 L294.9,227.8 L295.8,227.8 L296.6,227.8 L297.4,227.7 L298.1,227.7 L298.9,227.7 L299.8,227.6 L300.5,227.6 L301.4,227.6 L302.1,227.6 L302.9,227.5 L303.8,227.5 L304.5,227.5 L305.4,227.5 L306.1,227.4 L307.0,227.4 L307.8,227.4 L308.5,227.4 L309.4,227.3 L310.1,227.3 L310.9,227.3 L311.8,227.3 L312.6,227.3 L313.4,227.2 L314.1,227.2 L314.9,227.2 L315.8,227.2 L316.6,227.1 L317.4,227.1 L318.1,227.1 L319.0,227.1 L319.8,227.1 L320.5,227.0 L321.4,227.0 L322.1,227.0 L322.9,227.0 L323.8,227.0 L324.6,227.0 L325.4,226.9 L326.1,226.9 L327.0,226.9 L327.8,226.9 L328.5,226.9 L329.4,226.9 L330.1,226.8 L331.0,226.8 L331.8,226.8 L332.6,226.8 L333.4,226.8 L334.1,226.8 L334.9,226.7 L335.8,226.7 L336.6,226.7 L337.4,226.7 L338.1,226.7 L339.0,226.7 L339.8,226.7 L340.5,226.7 L341.4,226.6 L342.1,226.6 L342.9,226.6 L343.8,226.6 L344.6,226.6 L345.4,226.6 L346.1,226.6 L346.9,226.5 L347.8,226.5 L348.5,226.5 L349.4,226.5 L350.1,226.5 L351.0,226.5 L351.8,226.5 L352.6,226.5 L353.4,226.5 L354.1,226.4 L354.9,226.4 L355.8,226.4 L356.6,226.4 L357.4,226.4 L358.1,226.4 L359.0,226.4 L359.8,226.4 L360.5,226.4 L361.4,226.4 L362.1,226.4 L362.9,226.3 L363.8,226.3 L364.6,226.3 L365.4,226.3 L366.1,226.3 L366.9,226.3 L367.8,226.3 L368.5,226.3 L369.4,226.3 L370.1,226.3 L371.0,226.3 L371.8,226.2 L372.6,226.2 L373.4,226.2 L374.1,226.2 L374.9,226.2 L375.8,226.2 L376.6,226.2 L377.4,226.2 L378.1,226.2 L379.0,226.2 L379.8,226.2 L380.5,226.2 L381.4,226.2 L381.6,226.2" stroke="#ff00ff" stroke-width="1.25" fill="none"/>
</g>
</g>
<rect x="194.60" y="8.80" width="193.60" height="19.40" fill="#fff" stroke="#1a1a1a" stroke-width="1.0"/>
<path d="M196.3,18.50 h15" stroke="#0000ff" stroke-width="1.35" stroke-dasharray="3.2 2"/>
<path d="M243.4,18.50 h14.8" stroke="#22ee55" stroke-width="1.35"/>
<path d="M313.8,18.50 h15.3" stroke="#ff0000" stroke-width="1.35" stroke-dasharray="3.2 0.8 1 0.8"/>
</g>
<g>
<text x="46.97" y="109.84" text-anchor="middle" style="font-family:'Liberation Serif',serif;font-size:15px;fill:#000">0</text>
<text x="128.48" y="109.84" text-anchor="middle" style="font-family:'Liberation Serif',serif;font-size:15px;fill:#000">10</text>
<text x="210.00" y="109.84" text-anchor="middle" style="font-family:'Liberation Serif',serif;font-size:15px;fill:#000">20</text>
<text x="291.51" y="109.84" text-anchor="middle" style="font-family:'Liberation Serif',serif;font-size:15px;fill:#000">30</text>
<text x="373.03" y="109.84" text-anchor="middle" style="font-family:'Liberation Serif',serif;font-size:15px;fill:#000">40</text>
<text x="454.54" y="109.84" text-anchor="middle" style="font-family:'Liberation Serif',serif;font-size:15px;fill:#000">50</text>
<text x="536.06" y="109.84" text-anchor="middle" style="font-family:'Liberation Serif',serif;font-size:15px;fill:#000">60</text>
<text x="42.77" y="48.90" text-anchor="end" style="font-family:'Liberation Serif',serif;font-size:15px;fill:#000">1</text>
<text x="42.77" y="73.22" text-anchor="end" style="font-family:'Liberation Serif',serif;font-size:15px;fill:#000">0</text>
<text x="42.77" y="97.54" text-anchor="end" style="font-family:'Liberation Serif',serif;font-size:15px;fill:#000"><tspan dy="1.6">−</tspan><tspan dx="-0.9" dy="-1.6">1</tspan></text>
<text x="171.97" y="98.03" text-anchor="middle" style="font-family:'Liberation Serif',serif;font-size:6.8px;fill:#222;stroke:#222;stroke-width:0.1">0</text>
<text x="206.39" y="98.03" text-anchor="middle" style="font-family:'Liberation Serif',serif;font-size:6.8px;fill:#222;stroke:#222;stroke-width:0.1">2</text>
<text x="240.81" y="98.03" text-anchor="middle" style="font-family:'Liberation Serif',serif;font-size:6.8px;fill:#222;stroke:#222;stroke-width:0.1">4</text>
<text x="275.23" y="98.03" text-anchor="middle" style="font-family:'Liberation Serif',serif;font-size:6.8px;fill:#222;stroke:#222;stroke-width:0.1">6</text>
<text x="309.65" y="98.03" text-anchor="middle" style="font-family:'Liberation Serif',serif;font-size:6.8px;fill:#222;stroke:#222;stroke-width:0.1">8</text>
<text x="344.07" y="98.03" text-anchor="middle" style="font-family:'Liberation Serif',serif;font-size:6.8px;fill:#222;stroke:#222;stroke-width:0.1">10</text>
<text x="378.49" y="98.03" text-anchor="middle" style="font-family:'Liberation Serif',serif;font-size:6.8px;fill:#222;stroke:#222;stroke-width:0.1">12</text>
<text x="168.17" y="50.46" text-anchor="end" style="font-family:'Liberation Serif',serif;font-size:6.8px;fill:#222;stroke:#222;stroke-width:0.1">1</text>
<text x="168.17" y="70.80" text-anchor="end" style="font-family:'Liberation Serif',serif;font-size:6.8px;fill:#222;stroke:#222;stroke-width:0.1">0</text>
<text x="168.17" y="91.13" text-anchor="end" style="font-family:'Liberation Serif',serif;font-size:6.8px;fill:#222;stroke:#222;stroke-width:0.1"><tspan dy="0.7">−</tspan><tspan dy="-0.7">1</tspan></text>
<text x="46.97" y="187.50" text-anchor="middle" style="font-family:'Liberation Serif',serif;font-size:15px;fill:#000">0</text>
<text x="128.48" y="187.50" text-anchor="middle" style="font-family:'Liberation Serif',serif;font-size:15px;fill:#000">10</text>
<text x="210.00" y="187.50" text-anchor="middle" style="font-family:'Liberation Serif',serif;font-size:15px;fill:#000">20</text>
<text x="291.51" y="187.50" text-anchor="middle" style="font-family:'Liberation Serif',serif;font-size:15px;fill:#000">30</text>
<text x="373.03" y="187.50" text-anchor="middle" style="font-family:'Liberation Serif',serif;font-size:15px;fill:#000">40</text>
<text x="454.54" y="187.50" text-anchor="middle" style="font-family:'Liberation Serif',serif;font-size:15px;fill:#000">50</text>
<text x="536.06" y="187.50" text-anchor="middle" style="font-family:'Liberation Serif',serif;font-size:15px;fill:#000">60</text>
<text x="42.77" y="126.63" text-anchor="end" style="font-family:'Liberation Serif',serif;font-size:15px;fill:#000">1</text>
<text x="42.77" y="150.92" text-anchor="end" style="font-family:'Liberation Serif',serif;font-size:15px;fill:#000">0</text>
<text x="42.77" y="175.20" text-anchor="end" style="font-family:'Liberation Serif',serif;font-size:15px;fill:#000"><tspan dy="1.6">−</tspan><tspan dx="-0.9" dy="-1.6">1</tspan></text>
<text x="171.97" y="176.27" text-anchor="middle" style="font-family:'Liberation Serif',serif;font-size:6.8px;fill:#222;stroke:#222;stroke-width:0.1">0</text>
<text x="206.89" y="176.27" text-anchor="middle" style="font-family:'Liberation Serif',serif;font-size:6.8px;fill:#222;stroke:#222;stroke-width:0.1">2</text>
<text x="241.81" y="176.27" text-anchor="middle" style="font-family:'Liberation Serif',serif;font-size:6.8px;fill:#222;stroke:#222;stroke-width:0.1">4</text>
<text x="276.73" y="176.27" text-anchor="middle" style="font-family:'Liberation Serif',serif;font-size:6.8px;fill:#222;stroke:#222;stroke-width:0.1">6</text>
<text x="311.65" y="176.27" text-anchor="middle" style="font-family:'Liberation Serif',serif;font-size:6.8px;fill:#222;stroke:#222;stroke-width:0.1">8</text>
<text x="346.57" y="176.27" text-anchor="middle" style="font-family:'Liberation Serif',serif;font-size:6.8px;fill:#222;stroke:#222;stroke-width:0.1">10</text>
<text x="168.17" y="127.99" text-anchor="end" style="font-family:'Liberation Serif',serif;font-size:6.8px;fill:#222;stroke:#222;stroke-width:0.1">1</text>
<text x="168.17" y="148.68" text-anchor="end" style="font-family:'Liberation Serif',serif;font-size:6.8px;fill:#222;stroke:#222;stroke-width:0.1">0</text>
<text x="168.17" y="169.37" text-anchor="end" style="font-family:'Liberation Serif',serif;font-size:6.8px;fill:#222;stroke:#222;stroke-width:0.1"><tspan dy="0.7">−</tspan><tspan dy="-0.7">1</tspan></text>
<text x="46.97" y="264.89" text-anchor="middle" style="font-family:'Liberation Serif',serif;font-size:15px;fill:#000">0</text>
<text x="128.48" y="264.89" text-anchor="middle" style="font-family:'Liberation Serif',serif;font-size:15px;fill:#000">10</text>
<text x="210.00" y="264.89" text-anchor="middle" style="font-family:'Liberation Serif',serif;font-size:15px;fill:#000">20</text>
<text x="291.51" y="264.89" text-anchor="middle" style="font-family:'Liberation Serif',serif;font-size:15px;fill:#000">30</text>
<text x="373.03" y="264.89" text-anchor="middle" style="font-family:'Liberation Serif',serif;font-size:15px;fill:#000">40</text>
<text x="454.54" y="264.89" text-anchor="middle" style="font-family:'Liberation Serif',serif;font-size:15px;fill:#000">50</text>
<text x="536.06" y="264.89" text-anchor="middle" style="font-family:'Liberation Serif',serif;font-size:15px;fill:#000">60</text>
<text x="42.77" y="204.06" text-anchor="end" style="font-family:'Liberation Serif',serif;font-size:15px;fill:#000">1</text>
<text x="42.77" y="228.32" text-anchor="end" style="font-family:'Liberation Serif',serif;font-size:15px;fill:#000">0</text>
<text x="42.77" y="252.59" text-anchor="end" style="font-family:'Liberation Serif',serif;font-size:15px;fill:#000"><tspan dy="1.6">−</tspan><tspan dx="-0.9" dy="-1.6">1</tspan></text>
<text x="170.95" y="254.03" text-anchor="middle" style="font-family:'Liberation Serif',serif;font-size:6.8px;fill:#222;stroke:#222;stroke-width:0.1">0</text>
<text x="205.07" y="254.03" text-anchor="middle" style="font-family:'Liberation Serif',serif;font-size:6.8px;fill:#222;stroke:#222;stroke-width:0.1">2</text>
<text x="239.19" y="254.03" text-anchor="middle" style="font-family:'Liberation Serif',serif;font-size:6.8px;fill:#222;stroke:#222;stroke-width:0.1">4</text>
<text x="273.31" y="254.03" text-anchor="middle" style="font-family:'Liberation Serif',serif;font-size:6.8px;fill:#222;stroke:#222;stroke-width:0.1">6</text>
<text x="307.43" y="254.03" text-anchor="middle" style="font-family:'Liberation Serif',serif;font-size:6.8px;fill:#222;stroke:#222;stroke-width:0.1">8</text>
<text x="341.55" y="254.03" text-anchor="middle" style="font-family:'Liberation Serif',serif;font-size:6.8px;fill:#222;stroke:#222;stroke-width:0.1">10</text>
<text x="375.67" y="254.03" text-anchor="middle" style="font-family:'Liberation Serif',serif;font-size:6.8px;fill:#222;stroke:#222;stroke-width:0.1">12</text>
<text x="167.15" y="205.51" text-anchor="end" style="font-family:'Liberation Serif',serif;font-size:6.8px;fill:#222;stroke:#222;stroke-width:0.1">1</text>
<text x="167.15" y="226.32" text-anchor="end" style="font-family:'Liberation Serif',serif;font-size:6.8px;fill:#222;stroke:#222;stroke-width:0.1">0</text>
<text x="167.15" y="247.13" text-anchor="end" style="font-family:'Liberation Serif',serif;font-size:6.8px;fill:#222;stroke:#222;stroke-width:0.1"><tspan dy="0.7">−</tspan><tspan dy="-0.7">1</tspan></text>
<text transform="translate(20.60,101.08) rotate(-90) scale(1.160,1)" style="font-family:'Liberation Serif',serif;font-style:italic;font-size:15.20px;fill:#1a1a1a;stroke:#000;stroke-width:0.08">u</text>
<text transform="translate(23.00,90.81) rotate(-90) scale(0.951,1)" style="font-family:'Liberation Serif',serif;font-style:italic;font-size:10.50px;fill:#1a1a1a;stroke:#000;stroke-width:0.08">e</text>
<text transform="translate(23.80,84.00) rotate(-90) scale(0.912,1)" style="font-family:'Liberation Serif',serif;font-size:22.50px;fill:#1a1a1a;stroke:#000;stroke-width:0.08">/</text>
<text transform="translate(20.60,76.80) rotate(-90) scale(1.277,1)" style="font-family:'Liberation Serif',serif;font-style:italic;font-size:15.20px;fill:#1a1a1a;stroke:#000;stroke-width:0.08">m</text>
<text transform="translate(20.60,61.60) rotate(-90) scale(0.501,1)" style="font-family:'Liberation Serif',serif;font-size:15.20px;fill:#1a1a1a;stroke:#000;stroke-width:0.08">.</text>
<text transform="translate(20.60,57.19) rotate(-90) scale(1.006,1)" style="font-family:'Liberation Serif',serif;font-style:italic;font-size:15.20px;fill:#1a1a1a;stroke:#000;stroke-width:0.08">s</text>
<text transform="translate(15.70,49.81) rotate(-90) scale(1.114,1)" style="font-family:'Liberation Serif',serif;font-size:11.00px;fill:#1a1a1a;stroke:#000;stroke-width:0.45">−</text>
<text transform="translate(14.70,40.95) rotate(-90) scale(0.717,1)" style="font-family:'Liberation Serif',serif;font-size:10.30px;fill:#1a1a1a;stroke:#000;stroke-width:0.08">1</text>
<text transform="translate(23.00,168.81) rotate(-90) scale(0.951,1)" style="font-family:'Liberation Serif',serif;font-style:italic;font-size:10.50px;fill:#1a1a1a;stroke:#000;stroke-width:0.08">e</text>
<text transform="translate(23.80,162.00) rotate(-90) scale(0.912,1)" style="font-family:'Liberation Serif',serif;font-size:22.50px;fill:#1a1a1a;stroke:#000;stroke-width:0.08">/</text>
<text transform="translate(20.60,154.80) rotate(-90) scale(1.277,1)" style="font-family:'Liberation Serif',serif;font-style:italic;font-size:15.20px;fill:#1a1a1a;stroke:#000;stroke-width:0.08">m</text>
<text transform="translate(20.60,139.60) rotate(-90) scale(0.501,1)" style="font-family:'Liberation Serif',serif;font-size:15.20px;fill:#1a1a1a;stroke:#000;stroke-width:0.08">.</text>
<text transform="translate(20.60,135.19) rotate(-90) scale(1.006,1)" style="font-family:'Liberation Serif',serif;font-style:italic;font-size:15.20px;fill:#1a1a1a;stroke:#000;stroke-width:0.08">s</text>
<text transform="translate(15.70,127.81) rotate(-90) scale(1.114,1)" style="font-family:'Liberation Serif',serif;font-size:11.00px;fill:#1a1a1a;stroke:#000;stroke-width:0.45">−</text>
<text transform="translate(14.70,118.95) rotate(-90) scale(0.717,1)" style="font-family:'Liberation Serif',serif;font-size:10.30px;fill:#1a1a1a;stroke:#000;stroke-width:0.08">1</text>
<text transform="translate(20.60,176.28) rotate(-90) scale(0.887,1)" style="font-family:'Liberation Serif',serif;font-style:italic;font-size:15.20px;fill:#1a1a1a;stroke:#000;stroke-width:0.08">v</text>
<text transform="translate(20.60,262.72) rotate(-90) scale(1.011,1)" style="font-family:'Liberation Serif',serif;font-style:italic;font-size:15.20px;fill:#1a1a1a;stroke:#000;stroke-width:0.08">r</text>
<text transform="translate(23.00,255.74) rotate(-90) scale(1.048,1)" style="font-family:'Liberation Serif',serif;font-style:italic;font-size:10.50px;fill:#1a1a1a;stroke:#000;stroke-width:0.08">e</text>
<text transform="translate(23.80,248.30) rotate(-90) scale(0.912,1)" style="font-family:'Liberation Serif',serif;font-size:22.50px;fill:#1a1a1a;stroke:#000;stroke-width:0.08">/</text>
<text transform="translate(20.60,241.10) rotate(-90) scale(1.277,1)" style="font-family:'Liberation Serif',serif;font-style:italic;font-size:15.20px;fill:#1a1a1a;stroke:#000;stroke-width:0.08">m</text>
<text transform="translate(20.60,225.90) rotate(-90) scale(0.501,1)" style="font-family:'Liberation Serif',serif;font-size:15.20px;fill:#1a1a1a;stroke:#000;stroke-width:0.08">.</text>
<text transform="translate(20.60,222.90) rotate(-90) scale(1.142,1)" style="font-family:'Liberation Serif',serif;font-style:italic;font-size:15.20px;fill:#1a1a1a;stroke:#000;stroke-width:0.08">r</text>
<text transform="translate(20.60,214.45) rotate(-90) scale(0.988,1)" style="font-family:'Liberation Serif',serif;font-style:italic;font-size:15.20px;fill:#1a1a1a;stroke:#000;stroke-width:0.08">a</text>
<text transform="translate(20.60,205.94) rotate(-90) scale(0.961,1)" style="font-family:'Liberation Serif',serif;font-style:italic;font-size:15.20px;fill:#1a1a1a;stroke:#000;stroke-width:0.08">d</text>
<text transform="translate(15.70,196.68) rotate(-90) scale(1.055,1)" style="font-family:'Liberation Serif',serif;font-size:11.00px;fill:#1a1a1a;stroke:#000;stroke-width:0.45">−</text>
<text transform="translate(14.70,188.25) rotate(-90) scale(0.717,1)" style="font-family:'Liberation Serif',serif;font-size:10.30px;fill:#1a1a1a;stroke:#000;stroke-width:0.08">1</text>
<text transform="translate(280.66,281.65) scale(1.152,1)" style="font-family:'Liberation Serif',serif;font-style:italic;font-size:14.70px;fill:#1a1a1a;stroke:#000;stroke-width:0.08">t</text>
<text transform="translate(287.30,285.30) scale(1.017,1)" style="font-family:'Liberation Serif',serif;font-size:22.30px;fill:#1a1a1a;stroke:#000;stroke-width:0.08">/</text>
<text transform="translate(295.61,281.70) scale(1.202,1)" style="font-family:'Liberation Serif',serif;font-style:italic;font-size:13.20px;fill:#1a1a1a;stroke:#000;stroke-width:0.08">s</text>
<text x="212.4" y="23.70" style="font-family:'Liberation Sans',sans-serif;font-size:14.6px;fill:#000;stroke:#000;stroke-width:0.3">FTC</text>
<text x="259.9" y="23.70" style="font-family:'Liberation Sans',sans-serif;font-size:14.6px;fill:#000;stroke:#000;stroke-width:0.3">NFTSM</text>
<text x="330.3" y="23.70" style="font-family:'Liberation Sans',sans-serif;font-size:14.6px;fill:#000;stroke:#000;stroke-width:0.3">PPFTPT</text>
</g>
</svg>
</body></html>
